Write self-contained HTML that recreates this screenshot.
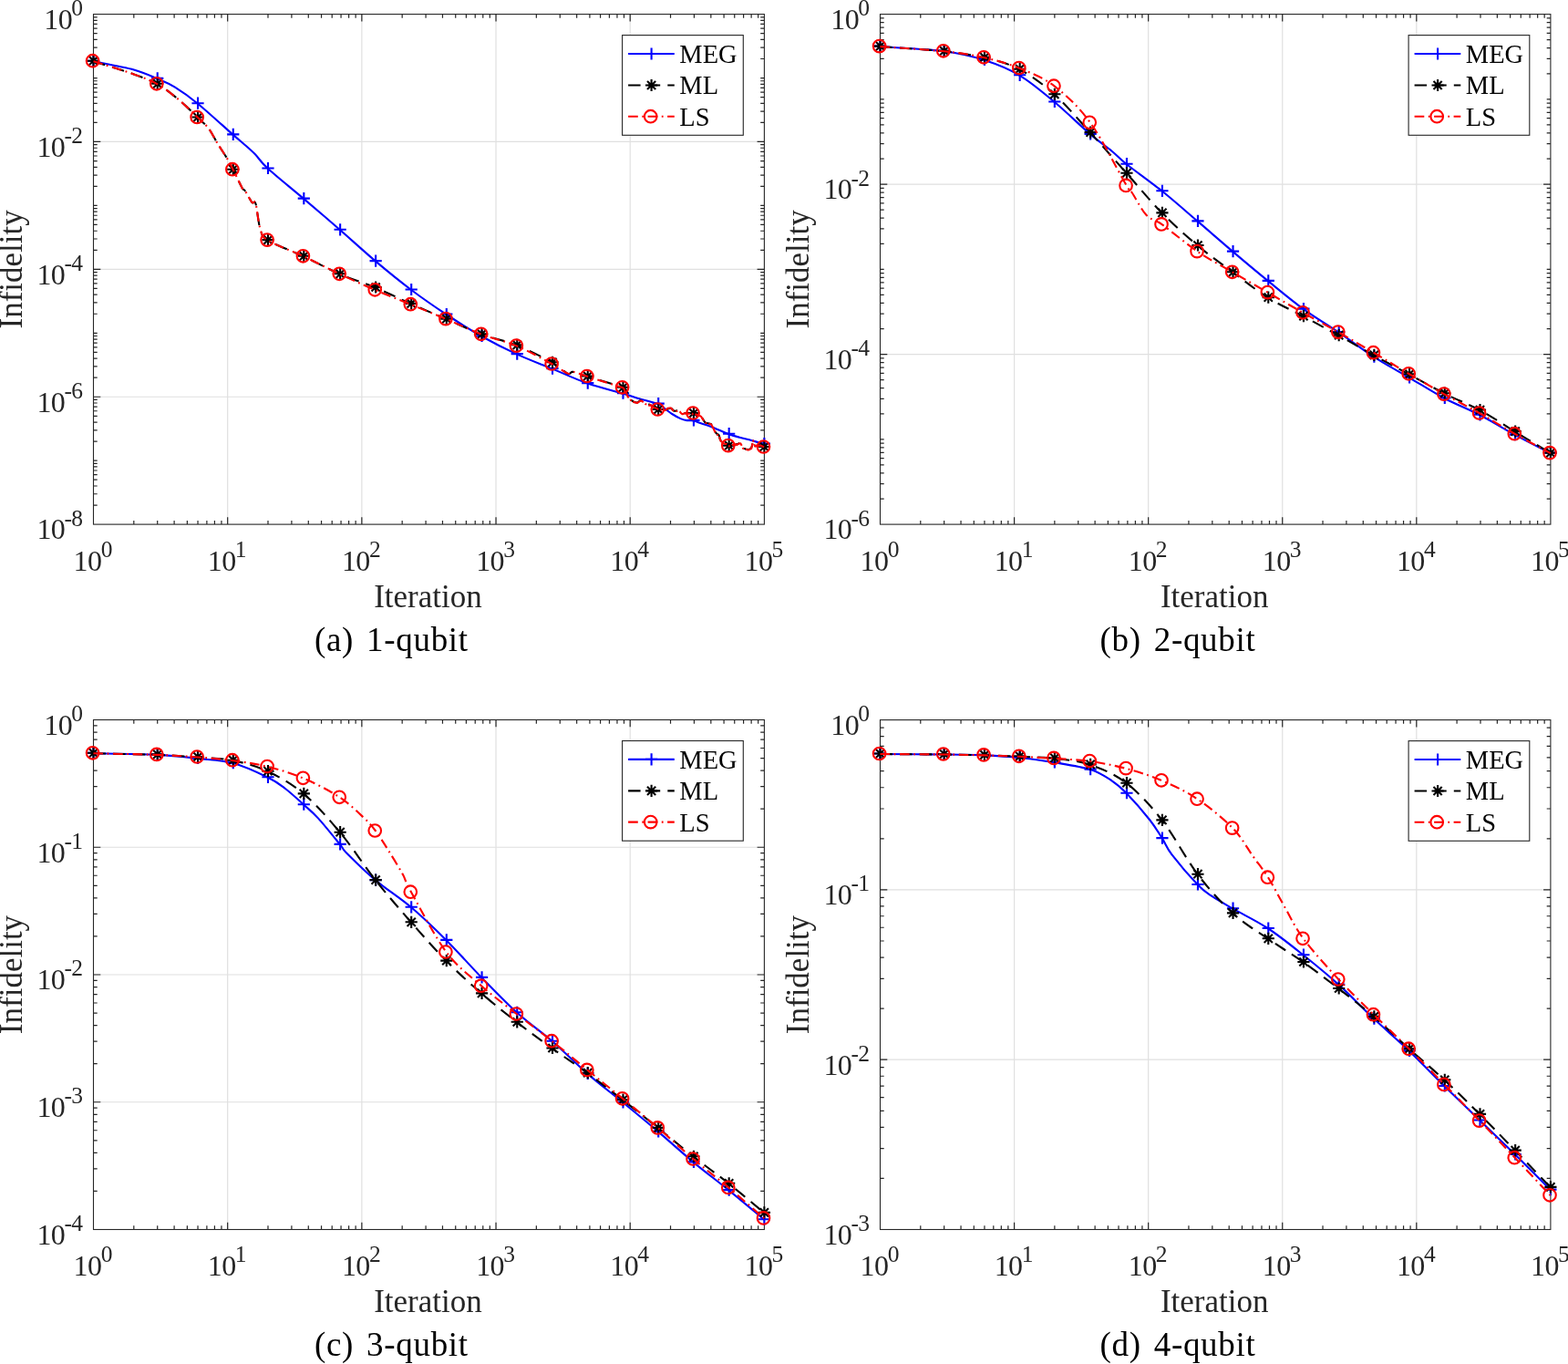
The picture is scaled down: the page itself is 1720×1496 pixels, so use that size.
<!DOCTYPE html>
<html><head><meta charset="utf-8"><title>Infidelity vs Iteration</title>
<style>
html,body{margin:0;padding:0;background:#fff;}
body{width:1720px;height:1496px;overflow:hidden;}
svg{display:block;}
text{font-family:"Liberation Serif", "Times New Roman", serif;}
.tk{font-size:32px;fill:#262626;letter-spacing:-0.6px;}
.sup{font-size:25.5px;}
.lab{font-size:35px;fill:#262626;}
.cap{font-size:37px;fill:#000;letter-spacing:0.7px;word-spacing:4px;}
.leg{font-size:28.5px;fill:#000;}
</style></head>
<body>
<svg width="1720" height="1496" viewBox="0 0 1720 1496">
<path d="M249.68 15.6V575.1M396.86 15.6V575.1M544.04 15.6V575.1M691.22 15.6V575.1M102.5 155.47H838.4M102.5 295.35H838.4M102.5 435.23H838.4" stroke="#262626" stroke-opacity="0.14" stroke-width="1.2" fill="none"/>
<path d="M146.81 575.1v-4.2M146.81 15.6v4.2M172.72 575.1v-4.2M172.72 15.6v4.2M191.11 575.1v-4.2M191.11 15.6v4.2M205.37 575.1v-4.2M205.37 15.6v4.2M217.03 575.1v-4.2M217.03 15.6v4.2M226.88 575.1v-4.2M226.88 15.6v4.2M235.42 575.1v-4.2M235.42 15.6v4.2M242.95 575.1v-4.2M242.95 15.6v4.2M249.68 575.1v-7.8M249.68 15.6v7.8M293.99 575.1v-4.2M293.99 15.6v4.2M319.9 575.1v-4.2M319.9 15.6v4.2M338.29 575.1v-4.2M338.29 15.6v4.2M352.55 575.1v-4.2M352.55 15.6v4.2M364.21 575.1v-4.2M364.21 15.6v4.2M374.06 575.1v-4.2M374.06 15.6v4.2M382.6 575.1v-4.2M382.6 15.6v4.2M390.13 575.1v-4.2M390.13 15.6v4.2M396.86 575.1v-7.8M396.86 15.6v7.8M441.17 575.1v-4.2M441.17 15.6v4.2M467.08 575.1v-4.2M467.08 15.6v4.2M485.47 575.1v-4.2M485.47 15.6v4.2M499.73 575.1v-4.2M499.73 15.6v4.2M511.39 575.1v-4.2M511.39 15.6v4.2M521.24 575.1v-4.2M521.24 15.6v4.2M529.78 575.1v-4.2M529.78 15.6v4.2M537.31 575.1v-4.2M537.31 15.6v4.2M544.04 575.1v-7.8M544.04 15.6v7.8M588.35 575.1v-4.2M588.35 15.6v4.2M614.26 575.1v-4.2M614.26 15.6v4.2M632.65 575.1v-4.2M632.65 15.6v4.2M646.91 575.1v-4.2M646.91 15.6v4.2M658.57 575.1v-4.2M658.57 15.6v4.2M668.42 575.1v-4.2M668.42 15.6v4.2M676.96 575.1v-4.2M676.96 15.6v4.2M684.49 575.1v-4.2M684.49 15.6v4.2M691.22 575.1v-7.8M691.22 15.6v7.8M735.53 575.1v-4.2M735.53 15.6v4.2M761.44 575.1v-4.2M761.44 15.6v4.2M779.83 575.1v-4.2M779.83 15.6v4.2M794.09 575.1v-4.2M794.09 15.6v4.2M805.75 575.1v-4.2M805.75 15.6v4.2M815.6 575.1v-4.2M815.6 15.6v4.2M824.14 575.1v-4.2M824.14 15.6v4.2M831.67 575.1v-4.2M831.67 15.6v4.2M102.5 85.54h4.2M838.4 85.54h-4.2M102.5 64.48h4.2M838.4 64.48h-4.2M102.5 52.17h4.2M838.4 52.17h-4.2M102.5 43.43h4.2M838.4 43.43h-4.2M102.5 36.65h4.2M838.4 36.65h-4.2M102.5 31.12h4.2M838.4 31.12h-4.2M102.5 26.43h4.2M838.4 26.43h-4.2M102.5 22.38h4.2M838.4 22.38h-4.2M102.5 18.8h4.2M838.4 18.8h-4.2M102.5 155.47h7.8M838.4 155.47h-7.8M102.5 134.42h4.2M838.4 134.42h-4.2M102.5 122.11h4.2M838.4 122.11h-4.2M102.5 113.37h4.2M838.4 113.37h-4.2M102.5 106.59h4.2M838.4 106.59h-4.2M102.5 101.05h4.2M838.4 101.05h-4.2M102.5 96.37h4.2M838.4 96.37h-4.2M102.5 92.32h4.2M838.4 92.32h-4.2M102.5 88.74h4.2M838.4 88.74h-4.2M102.5 225.41h4.2M838.4 225.41h-4.2M102.5 204.36h4.2M838.4 204.36h-4.2M102.5 192.04h4.2M838.4 192.04h-4.2M102.5 183.31h4.2M838.4 183.31h-4.2M102.5 176.53h4.2M838.4 176.53h-4.2M102.5 170.99h4.2M838.4 170.99h-4.2M102.5 166.31h4.2M838.4 166.31h-4.2M102.5 162.25h4.2M838.4 162.25h-4.2M102.5 158.68h4.2M838.4 158.68h-4.2M102.5 295.35h7.8M838.4 295.35h-7.8M102.5 274.3h4.2M838.4 274.3h-4.2M102.5 261.98h4.2M838.4 261.98h-4.2M102.5 253.24h4.2M838.4 253.24h-4.2M102.5 246.47h4.2M838.4 246.47h-4.2M102.5 240.93h4.2M838.4 240.93h-4.2M102.5 236.25h4.2M838.4 236.25h-4.2M102.5 232.19h4.2M838.4 232.19h-4.2M102.5 228.61h4.2M838.4 228.61h-4.2M102.5 365.29h4.2M838.4 365.29h-4.2M102.5 344.23h4.2M838.4 344.23h-4.2M102.5 331.92h4.2M838.4 331.92h-4.2M102.5 323.18h4.2M838.4 323.18h-4.2M102.5 316.4h4.2M838.4 316.4h-4.2M102.5 310.87h4.2M838.4 310.87h-4.2M102.5 306.18h4.2M838.4 306.18h-4.2M102.5 302.13h4.2M838.4 302.13h-4.2M102.5 298.55h4.2M838.4 298.55h-4.2M102.5 435.23h7.8M838.4 435.23h-7.8M102.5 414.17h4.2M838.4 414.17h-4.2M102.5 401.86h4.2M838.4 401.86h-4.2M102.5 393.12h4.2M838.4 393.12h-4.2M102.5 386.34h4.2M838.4 386.34h-4.2M102.5 380.8h4.2M838.4 380.8h-4.2M102.5 376.12h4.2M838.4 376.12h-4.2M102.5 372.07h4.2M838.4 372.07h-4.2M102.5 368.49h4.2M838.4 368.49h-4.2M102.5 505.16h4.2M838.4 505.16h-4.2M102.5 484.11h4.2M838.4 484.11h-4.2M102.5 471.79h4.2M838.4 471.79h-4.2M102.5 463.06h4.2M838.4 463.06h-4.2M102.5 456.28h4.2M838.4 456.28h-4.2M102.5 450.74h4.2M838.4 450.74h-4.2M102.5 446.06h4.2M838.4 446.06h-4.2M102.5 442h4.2M838.4 442h-4.2M102.5 438.43h4.2M838.4 438.43h-4.2M102.5 554.05h4.2M838.4 554.05h-4.2M102.5 541.73h4.2M838.4 541.73h-4.2M102.5 532.99h4.2M838.4 532.99h-4.2M102.5 526.22h4.2M838.4 526.22h-4.2M102.5 520.68h4.2M838.4 520.68h-4.2M102.5 516h4.2M838.4 516h-4.2M102.5 511.94h4.2M838.4 511.94h-4.2M102.5 508.36h4.2M838.4 508.36h-4.2" stroke="#262626" stroke-width="1.2" fill="none"/>
<rect x="102.5" y="15.6" width="735.9" height="559.5" stroke="#262626" stroke-width="1.1" fill="none"/>
<path d="M102.5 67.2 C109.88 68.73 135.1 73.2 146.8 76.4 C158.5 79.6 165.21 83.2 172.72 86.4 C180.24 89.6 184.52 91.05 191.9 95.6 C199.28 100.15 206.38 104.98 217.03 113.7 C227.67 122.42 247.44 140.6 255.77 147.9 C264.1 155.2 263.01 153.97 267 157.5 C270.99 161.03 275.2 164.52 279.7 169.1 C284.2 173.68 285.05 176.83 293.99 185 C302.92 193.17 320.12 206.88 333.31 218.1 C346.5 229.32 360 240.88 373.14 252.3 C386.28 263.72 399.13 275.65 412.14 286.6 C425.15 297.55 438.26 308.27 451.2 318 C464.14 327.73 476.9 336.5 489.8 345 C502.69 353.5 515.66 361.73 528.57 369 C541.48 376.27 554.35 382.67 567.26 388.6 C580.17 394.53 593.1 399.27 606.02 404.6 C618.93 409.93 631.83 416.08 644.74 420.6 C657.65 425.12 674.65 429.1 683.48 431.7 C692.3 434.3 691.24 434.3 697.7 436.2 C704.16 438.1 717.02 441.15 722.21 443.1 C727.39 445.05 726.3 446.08 728.8 447.9 C731.3 449.72 734.25 452.13 737.2 454 C740.15 455.87 743.78 457.92 746.5 459.1 C749.22 460.28 751.09 460.72 753.5 461.1 C755.91 461.48 758.62 460.95 760.94 461.4 C763.25 461.85 764.22 462.72 767.4 463.8 C770.58 464.88 774.62 465.83 780 467.9 C785.38 469.97 794.45 474.23 799.67 476.2 C804.89 478.17 807.21 478.55 811.3 479.7 C815.39 480.85 819.68 481.88 824.2 483.1 C828.72 484.32 836.03 486.35 838.4 487" stroke="#0000ff" stroke-width="2.1" fill="none" stroke-linejoin="round"/>
<path d="M95.9 66.7h13.2M102.5 60.1v13.2" stroke="#0000ff" stroke-width="2.1" fill="none"/>
<path d="M166.12 85.9h13.2M172.72 79.3v13.2" stroke="#0000ff" stroke-width="2.1" fill="none"/>
<path d="M210.43 113.2h13.2M217.03 106.6v13.2" stroke="#0000ff" stroke-width="2.1" fill="none"/>
<path d="M249.17 147.4h13.2M255.77 140.8v13.2" stroke="#0000ff" stroke-width="2.1" fill="none"/>
<path d="M287.39 184.5h13.2M293.99 177.9v13.2" stroke="#0000ff" stroke-width="2.1" fill="none"/>
<path d="M326.71 217.6h13.2M333.31 211v13.2" stroke="#0000ff" stroke-width="2.1" fill="none"/>
<path d="M366.54 251.8h13.2M373.14 245.2v13.2" stroke="#0000ff" stroke-width="2.1" fill="none"/>
<path d="M405.54 286.1h13.2M412.14 279.5v13.2" stroke="#0000ff" stroke-width="2.1" fill="none"/>
<path d="M444.6 317.5h13.2M451.2 310.9v13.2" stroke="#0000ff" stroke-width="2.1" fill="none"/>
<path d="M483.2 344.5h13.2M489.8 337.9v13.2" stroke="#0000ff" stroke-width="2.1" fill="none"/>
<path d="M521.97 368.5h13.2M528.57 361.9v13.2" stroke="#0000ff" stroke-width="2.1" fill="none"/>
<path d="M560.66 388.1h13.2M567.26 381.5v13.2" stroke="#0000ff" stroke-width="2.1" fill="none"/>
<path d="M599.42 404.1h13.2M606.02 397.5v13.2" stroke="#0000ff" stroke-width="2.1" fill="none"/>
<path d="M638.14 420.1h13.2M644.74 413.5v13.2" stroke="#0000ff" stroke-width="2.1" fill="none"/>
<path d="M676.88 431.2h13.2M683.48 424.6v13.2" stroke="#0000ff" stroke-width="2.1" fill="none"/>
<path d="M715.61 442.6h13.2M722.21 436v13.2" stroke="#0000ff" stroke-width="2.1" fill="none"/>
<path d="M754.34 460.9h13.2M760.94 454.3v13.2" stroke="#0000ff" stroke-width="2.1" fill="none"/>
<path d="M793.07 475.7h13.2M799.67 469.1v13.2" stroke="#0000ff" stroke-width="2.1" fill="none"/>
<path d="M831.8 486.5h13.2M838.4 479.9v13.2" stroke="#0000ff" stroke-width="2.1" fill="none"/>
<path d="M102.5 67.2 C109.88 69.57 135.1 77.22 146.8 81.4 C158.5 85.58 164.92 87.98 172.72 92.3 C180.52 96.62 187.62 102.57 193.6 107.3 C199.58 112.03 204.7 117.08 208.6 120.7 C212.5 124.32 213.68 125.67 217.03 129 C220.38 132.33 225.09 135.95 228.7 140.7 C232.31 145.45 235.08 151.65 238.7 157.5 C242.32 163.35 247.55 171.02 250.4 175.8 C253.25 180.58 253.26 181.18 255.77 186.2 C258.29 191.22 263.33 202.05 265.5 205.9 C267.67 209.75 267 206.65 268.8 209.3 C270.6 211.95 274.35 219.43 276.3 221.8 C278.25 224.17 278.97 218.63 280.5 223.5 C282.03 228.37 283.25 244.32 285.5 251 C287.75 257.68 286.02 258.55 293.99 263.6 C301.95 268.65 320.12 275.1 333.31 281.3 C346.5 287.5 360 295.1 373.14 300.8 C386.28 306.5 399.13 310.07 412.14 315.5 C425.15 320.93 438.26 327.63 451.2 333.4 C464.14 339.17 476.9 344.53 489.8 350.1 C502.69 355.67 515.66 362.02 528.57 366.8 C541.48 371.58 554.35 373.63 567.26 378.8 C580.17 383.97 596.83 392.67 606.02 397.8 C615.21 402.93 618.84 407.92 622.4 409.6 C625.96 411.28 625.72 408.03 627.4 407.9 C629.08 407.77 629.61 407.95 632.5 408.8 C635.39 409.65 636.25 410.25 644.74 413 C653.24 415.75 676.13 421.77 683.48 425.3 C690.82 428.83 687.26 431.88 688.8 434.2 C690.34 436.52 691.05 437.97 692.7 439.2 C694.35 440.43 697.05 441.6 698.7 441.6 C700.35 441.6 701.28 439.2 702.6 439.2 C703.92 439.2 704.78 440.78 706.6 441.6 C708.42 442.42 711.7 443.27 713.5 444.1 C715.3 444.93 715.95 445.7 717.4 446.6 C718.85 447.5 720.31 448.97 722.21 449.5 C724.11 450.03 727.07 449.98 728.8 449.8 C730.53 449.62 731.35 448.72 732.6 448.4 C733.85 448.08 735.15 447.52 736.3 447.9 C737.45 448.28 738.18 450.27 739.5 450.7 C740.82 451.13 742.65 450.03 744.2 450.5 C745.75 450.97 747.25 453.1 748.8 453.5 C750.35 453.9 751.48 452.9 753.5 452.9 C755.52 452.9 758.62 453.02 760.94 453.5 C763.25 453.98 765.77 454.87 767.4 455.8 C769.03 456.73 769.68 457.85 770.7 459.1 C771.72 460.35 771.95 462.28 773.5 463.3 C775.05 464.32 778.47 464.2 780 465.2 C781.53 466.2 781.77 467.63 782.7 469.3 C783.63 470.97 784.62 473.88 785.6 475.2 C786.58 476.52 787.77 475.88 788.6 477.2 C789.43 478.52 788.76 481.12 790.6 483.1 C792.44 485.08 796.7 488.43 799.67 489.1 C802.64 489.77 806.29 487.6 808.4 487.1 C810.51 486.6 811.15 485.45 812.3 486.1 C813.45 486.75 813.98 489.85 815.3 491 C816.62 492.15 818.72 493 820.2 493 C821.68 493 823.2 492.48 824.2 491 C825.2 489.52 825.55 484.42 826.2 484.1 C826.85 483.78 827.12 488.43 828.1 489.1 C829.08 489.77 830.38 487.87 832.1 488.1 C833.82 488.33 837.35 490.1 838.4 490.5" stroke="#000000" stroke-width="2.1" fill="none" stroke-linejoin="round" stroke-dasharray="13.5 8.1"/>
<path d="M95.9 66.7h13.2M102.5 60.1v13.2M97.9 62.1l9.2 9.2M97.9 71.3l9.2 -9.2" stroke="#000000" stroke-width="2.1" fill="none"/>
<path d="M166.12 91.8h13.2M172.72 85.2v13.2M168.12 87.2l9.2 9.2M168.12 96.4l9.2 -9.2" stroke="#000000" stroke-width="2.1" fill="none"/>
<path d="M210.43 128.5h13.2M217.03 121.9v13.2M212.43 123.9l9.2 9.2M212.43 133.1l9.2 -9.2" stroke="#000000" stroke-width="2.1" fill="none"/>
<path d="M249.17 185.7h13.2M255.77 179.1v13.2M251.17 181.1l9.2 9.2M251.17 190.3l9.2 -9.2" stroke="#000000" stroke-width="2.1" fill="none"/>
<path d="M287.39 263.1h13.2M293.99 256.5v13.2M289.39 258.5l9.2 9.2M289.39 267.7l9.2 -9.2" stroke="#000000" stroke-width="2.1" fill="none"/>
<path d="M326.71 280.8h13.2M333.31 274.2v13.2M328.71 276.2l9.2 9.2M328.71 285.4l9.2 -9.2" stroke="#000000" stroke-width="2.1" fill="none"/>
<path d="M366.54 300.3h13.2M373.14 293.7v13.2M368.54 295.7l9.2 9.2M368.54 304.9l9.2 -9.2" stroke="#000000" stroke-width="2.1" fill="none"/>
<path d="M405.54 315h13.2M412.14 308.4v13.2M407.54 310.4l9.2 9.2M407.54 319.6l9.2 -9.2" stroke="#000000" stroke-width="2.1" fill="none"/>
<path d="M444.6 332.9h13.2M451.2 326.3v13.2M446.6 328.3l9.2 9.2M446.6 337.5l9.2 -9.2" stroke="#000000" stroke-width="2.1" fill="none"/>
<path d="M483.2 349.6h13.2M489.8 343v13.2M485.2 345l9.2 9.2M485.2 354.2l9.2 -9.2" stroke="#000000" stroke-width="2.1" fill="none"/>
<path d="M521.97 366.3h13.2M528.57 359.7v13.2M523.97 361.7l9.2 9.2M523.97 370.9l9.2 -9.2" stroke="#000000" stroke-width="2.1" fill="none"/>
<path d="M560.66 378.3h13.2M567.26 371.7v13.2M562.66 373.7l9.2 9.2M562.66 382.9l9.2 -9.2" stroke="#000000" stroke-width="2.1" fill="none"/>
<path d="M599.42 397.3h13.2M606.02 390.7v13.2M601.42 392.7l9.2 9.2M601.42 401.9l9.2 -9.2" stroke="#000000" stroke-width="2.1" fill="none"/>
<path d="M638.14 412.5h13.2M644.74 405.9v13.2M640.14 407.9l9.2 9.2M640.14 417.1l9.2 -9.2" stroke="#000000" stroke-width="2.1" fill="none"/>
<path d="M676.88 424.8h13.2M683.48 418.2v13.2M678.88 420.2l9.2 9.2M678.88 429.4l9.2 -9.2" stroke="#000000" stroke-width="2.1" fill="none"/>
<path d="M715.61 449h13.2M722.21 442.4v13.2M717.61 444.4l9.2 9.2M717.61 453.6l9.2 -9.2" stroke="#000000" stroke-width="2.1" fill="none"/>
<path d="M754.34 453h13.2M760.94 446.4v13.2M756.34 448.4l9.2 9.2M756.34 457.6l9.2 -9.2" stroke="#000000" stroke-width="2.1" fill="none"/>
<path d="M793.07 488.6h13.2M799.67 482v13.2M795.07 484l9.2 9.2M795.07 493.2l9.2 -9.2" stroke="#000000" stroke-width="2.1" fill="none"/>
<path d="M831.8 490h13.2M838.4 483.4v13.2M833.8 485.4l9.2 9.2M833.8 494.6l9.2 -9.2" stroke="#000000" stroke-width="2.1" fill="none"/>
<path d="M102.5 67.2 C109.88 69.57 135.1 77.22 146.8 81.4 C158.5 85.58 164.92 87.98 172.72 92.3 C180.52 96.62 187.62 102.57 193.6 107.3 C199.58 112.03 204.7 117.08 208.6 120.7 C212.5 124.32 213.68 125.67 217.03 129 C220.38 132.33 225.09 135.95 228.7 140.7 C232.31 145.45 235.08 151.65 238.7 157.5 C242.32 163.35 247.55 171.02 250.4 175.8 C253.25 180.58 253.26 181.18 255.77 186.2 C258.29 191.22 263.33 202.05 265.5 205.9 C267.67 209.75 267 206.65 268.8 209.3 C270.6 211.95 274.35 219.43 276.3 221.8 C278.25 224.17 278.97 218.63 280.5 223.5 C282.03 228.37 283.25 244.32 285.5 251 C287.75 257.68 286.02 258.55 293.99 263.6 C301.95 268.65 320.12 275.1 333.31 281.3 C346.5 287.5 360 294.63 373.14 300.8 C386.28 306.97 399.13 312.73 412.14 318.3 C425.15 323.87 438.26 328.9 451.2 334.2 C464.14 339.5 476.9 344.67 489.8 350.1 C502.69 355.53 515.66 361.88 528.57 366.8 C541.48 371.72 554.35 374.15 567.26 379.6 C580.17 385.05 596.83 394.5 606.02 399.5 C615.21 404.5 618.84 408.2 622.4 409.6 C625.96 411 625.72 408.03 627.4 407.9 C629.08 407.77 629.61 407.95 632.5 408.8 C635.39 409.65 636.25 410.25 644.74 413 C653.24 415.75 677.02 423.25 683.48 425.3" stroke="#ff0000" stroke-width="2.1" fill="none" stroke-linejoin="round" stroke-dasharray="10.7 4.5 1.8 4.5"/>
<path d="M683.48 425.05 L684.81 427.29 L686.14 430.46 L687.47 432.13 L688.8 435.25 L690.1 436.68 L691.4 437.91 L692.7 440.21 L694.2 440.15 L695.7 441.31 L697.2 441.4 L698.7 442.03 L700.65 440.79 L702.6 439.66 L703.93 439.64 L705.27 440.75 L706.6 442.28 L707.98 443.23 L709.36 443.21 L710.74 443.46 L712.12 444.77 L713.5 443.97 L715.45 446.35 L717.4 446.81 L719 447.4 L720.6 448.16 L722.21 449.23 L723.52 450.1 L724.84 449.37 L726.16 450.09 L727.48 450.33 L728.8 450.12 L730.7 449.42 L732.6 447.79 L734.45 447.53 L736.3 447.49 L737.9 449.8 L739.5 451.1 L741.07 450.77 L742.63 450.99 L744.2 450.63 L745.73 451.52 L747.27 453.31 L748.8 454.28 L750.37 453.34 L751.93 453.5 L753.5 453.14 L754.99 453.71 L756.48 453.58 L757.96 453.04 L759.45 454.09 L760.94 452.97 L762.55 453.96 L764.17 455.01 L765.78 454.74 L767.4 455.78 L769.05 456.8 L770.7 459.34 L772.1 461.57 L773.5 463.4 L774.8 464.21 L776.1 463.8 L777.4 464.71 L778.7 464.95 L780 465.31 L781.35 467.44 L782.7 470.28 L784.15 473.37 L785.6 475.66 L787.1 476.93 L788.6 477.08 L790.6 483.88 L792.11 484.72 L793.62 486.12 L795.13 486.8 L796.65 486.97 L798.16 488.02 L799.67 489.34 L801.12 488.18 L802.58 488.55 L804.03 487.89 L805.49 487.56 L806.94 487.23 L808.4 487.98 L810.35 486.58 L812.3 486.25 L813.8 488.9 L815.3 492.02 L816.93 491.58 L818.57 492.76 L820.2 493.57 L821.53 493.37 L822.87 492.61 L824.2 492.01 L826.2 483.29 L828.1 489.48 L829.43 489.07 L830.77 489.47 L832.1 489.24 L833.67 488.59 L835.25 489.1 L836.83 489.65 L838.4 490.5" stroke="#ff0000" stroke-width="2.1" fill="none" stroke-linejoin="round" stroke-dasharray="13 2.5 1.8 2.5"/>
<circle cx="101.6" cy="66.7" r="6.8" stroke="#ff0000" stroke-width="2.1" fill="none"/>
<circle cx="171.82" cy="91.8" r="6.8" stroke="#ff0000" stroke-width="2.1" fill="none"/>
<circle cx="216.13" cy="128.5" r="6.8" stroke="#ff0000" stroke-width="2.1" fill="none"/>
<circle cx="254.87" cy="185.7" r="6.8" stroke="#ff0000" stroke-width="2.1" fill="none"/>
<circle cx="293.09" cy="263.1" r="6.8" stroke="#ff0000" stroke-width="2.1" fill="none"/>
<circle cx="332.41" cy="280.8" r="6.8" stroke="#ff0000" stroke-width="2.1" fill="none"/>
<circle cx="372.24" cy="300.3" r="6.8" stroke="#ff0000" stroke-width="2.1" fill="none"/>
<circle cx="411.24" cy="317.8" r="6.8" stroke="#ff0000" stroke-width="2.1" fill="none"/>
<circle cx="450.3" cy="333.7" r="6.8" stroke="#ff0000" stroke-width="2.1" fill="none"/>
<circle cx="488.9" cy="349.6" r="6.8" stroke="#ff0000" stroke-width="2.1" fill="none"/>
<circle cx="527.67" cy="366.3" r="6.8" stroke="#ff0000" stroke-width="2.1" fill="none"/>
<circle cx="566.36" cy="379.1" r="6.8" stroke="#ff0000" stroke-width="2.1" fill="none"/>
<circle cx="605.12" cy="399" r="6.8" stroke="#ff0000" stroke-width="2.1" fill="none"/>
<circle cx="643.84" cy="412.5" r="6.8" stroke="#ff0000" stroke-width="2.1" fill="none"/>
<circle cx="682.58" cy="424.8" r="6.8" stroke="#ff0000" stroke-width="2.1" fill="none"/>
<circle cx="721.31" cy="449" r="6.8" stroke="#ff0000" stroke-width="2.1" fill="none"/>
<circle cx="760.04" cy="453" r="6.8" stroke="#ff0000" stroke-width="2.1" fill="none"/>
<circle cx="798.77" cy="488.6" r="6.8" stroke="#ff0000" stroke-width="2.1" fill="none"/>
<circle cx="837.5" cy="490" r="6.8" stroke="#ff0000" stroke-width="2.1" fill="none"/>
<text x="101.7" y="625.5" text-anchor="middle" class="tk">10<tspan class="sup" dx="-0.8" dy="-14.9">0</tspan></text>
<text x="248.88" y="625.5" text-anchor="middle" class="tk">10<tspan class="sup" dx="-0.8" dy="-14.9">1</tspan></text>
<text x="396.06" y="625.5" text-anchor="middle" class="tk">10<tspan class="sup" dx="-0.8" dy="-14.9">2</tspan></text>
<text x="543.24" y="625.5" text-anchor="middle" class="tk">10<tspan class="sup" dx="-0.8" dy="-14.9">3</tspan></text>
<text x="690.42" y="625.5" text-anchor="middle" class="tk">10<tspan class="sup" dx="-0.8" dy="-14.9">4</tspan></text>
<text x="837.6" y="625.5" text-anchor="middle" class="tk">10<tspan class="sup" dx="-0.8" dy="-14.9">5</tspan></text>
<text x="90.5" y="31.9" text-anchor="end" class="tk">10<tspan class="sup" dx="-0.8" dy="-14.9">0</tspan></text>
<text x="90.5" y="171.78" text-anchor="end" class="tk">10<tspan class="sup" dx="-0.8" dy="-14.9">-2</tspan></text>
<text x="90.5" y="311.65" text-anchor="end" class="tk">10<tspan class="sup" dx="-0.8" dy="-14.9">-4</tspan></text>
<text x="90.5" y="451.53" text-anchor="end" class="tk">10<tspan class="sup" dx="-0.8" dy="-14.9">-6</tspan></text>
<text x="90.5" y="591.4" text-anchor="end" class="tk">10<tspan class="sup" dx="-0.8" dy="-14.9">-8</tspan></text>
<text x="469.45" y="665.7" text-anchor="middle" class="lab">Iteration</text>
<text transform="translate(24.2 295.35) rotate(-90)" text-anchor="middle" class="lab">Infidelity</text>
<text x="429.4" y="714" text-anchor="middle" class="cap">(a) 1-qubit</text>
<rect x="682.6" y="38.6" width="132.7" height="109.7" fill="#fff" stroke="#262626" stroke-width="1.1"/>
<path d="M689.1 59H739.8" stroke="#0000ff" stroke-width="2.1"/>
<path d="M708 59h13.2M714.6 52.4v13.2" stroke="#0000ff" stroke-width="2.1" fill="none"/>
<text x="745.3" y="68.7" class="leg">MEG</text>
<path d="M689.1 93.5H739.8" stroke="#000000" stroke-width="2.1" stroke-dasharray="13.5 8.1"/>
<path d="M708 93.5h13.2M714.6 86.9v13.2M710 88.9l9.2 9.2M710 98.1l9.2 -9.2" stroke="#000000" stroke-width="2.1" fill="none"/>
<text x="745.3" y="103.2" class="leg">ML</text>
<path d="M689.1 127.7H739.8" stroke="#ff0000" stroke-width="2.1" stroke-dasharray="10.7 4.5 1.8 4.5"/>
<circle cx="713.7" cy="127.7" r="6.8" stroke="#ff0000" stroke-width="2.1" fill="none"/>
<text x="745.3" y="137.6" class="leg">LS</text>
<path d="M1112.58 15.6V575.1M1259.66 15.6V575.1M1406.74 15.6V575.1M1553.82 15.6V575.1M965.5 202.1H1700.9M965.5 388.6H1700.9" stroke="#262626" stroke-opacity="0.14" stroke-width="1.2" fill="none"/>
<path d="M1009.78 575.1v-4.2M1009.78 15.6v4.2M1035.67 575.1v-4.2M1035.67 15.6v4.2M1054.05 575.1v-4.2M1054.05 15.6v4.2M1068.3 575.1v-4.2M1068.3 15.6v4.2M1079.95 575.1v-4.2M1079.95 15.6v4.2M1089.8 575.1v-4.2M1089.8 15.6v4.2M1098.33 575.1v-4.2M1098.33 15.6v4.2M1105.85 575.1v-4.2M1105.85 15.6v4.2M1112.58 575.1v-7.8M1112.58 15.6v7.8M1156.86 575.1v-4.2M1156.86 15.6v4.2M1182.75 575.1v-4.2M1182.75 15.6v4.2M1201.13 575.1v-4.2M1201.13 15.6v4.2M1215.38 575.1v-4.2M1215.38 15.6v4.2M1227.03 575.1v-4.2M1227.03 15.6v4.2M1236.88 575.1v-4.2M1236.88 15.6v4.2M1245.41 575.1v-4.2M1245.41 15.6v4.2M1252.93 575.1v-4.2M1252.93 15.6v4.2M1259.66 575.1v-7.8M1259.66 15.6v7.8M1303.94 575.1v-4.2M1303.94 15.6v4.2M1329.83 575.1v-4.2M1329.83 15.6v4.2M1348.21 575.1v-4.2M1348.21 15.6v4.2M1362.46 575.1v-4.2M1362.46 15.6v4.2M1374.11 575.1v-4.2M1374.11 15.6v4.2M1383.96 575.1v-4.2M1383.96 15.6v4.2M1392.49 575.1v-4.2M1392.49 15.6v4.2M1400.01 575.1v-4.2M1400.01 15.6v4.2M1406.74 575.1v-7.8M1406.74 15.6v7.8M1451.02 575.1v-4.2M1451.02 15.6v4.2M1476.91 575.1v-4.2M1476.91 15.6v4.2M1495.29 575.1v-4.2M1495.29 15.6v4.2M1509.54 575.1v-4.2M1509.54 15.6v4.2M1521.19 575.1v-4.2M1521.19 15.6v4.2M1531.04 575.1v-4.2M1531.04 15.6v4.2M1539.57 575.1v-4.2M1539.57 15.6v4.2M1547.09 575.1v-4.2M1547.09 15.6v4.2M1553.82 575.1v-7.8M1553.82 15.6v7.8M1598.1 575.1v-4.2M1598.1 15.6v4.2M1623.99 575.1v-4.2M1623.99 15.6v4.2M1642.37 575.1v-4.2M1642.37 15.6v4.2M1656.62 575.1v-4.2M1656.62 15.6v4.2M1668.27 575.1v-4.2M1668.27 15.6v4.2M1678.12 575.1v-4.2M1678.12 15.6v4.2M1686.65 575.1v-4.2M1686.65 15.6v4.2M1694.17 575.1v-4.2M1694.17 15.6v4.2M965.5 108.85h4.2M1700.9 108.85h-4.2M965.5 80.78h4.2M1700.9 80.78h-4.2M965.5 64.36h4.2M1700.9 64.36h-4.2M965.5 52.71h4.2M1700.9 52.71h-4.2M965.5 43.67h4.2M1700.9 43.67h-4.2M965.5 36.29h4.2M1700.9 36.29h-4.2M965.5 30.04h4.2M1700.9 30.04h-4.2M965.5 24.64h4.2M1700.9 24.64h-4.2M965.5 19.87h4.2M1700.9 19.87h-4.2M965.5 202.1h7.8M1700.9 202.1h-7.8M965.5 174.03h4.2M1700.9 174.03h-4.2M965.5 157.61h4.2M1700.9 157.61h-4.2M965.5 145.96h4.2M1700.9 145.96h-4.2M965.5 136.92h4.2M1700.9 136.92h-4.2M965.5 129.54h4.2M1700.9 129.54h-4.2M965.5 123.29h4.2M1700.9 123.29h-4.2M965.5 117.89h4.2M1700.9 117.89h-4.2M965.5 113.12h4.2M1700.9 113.12h-4.2M965.5 295.35h4.2M1700.9 295.35h-4.2M965.5 267.28h4.2M1700.9 267.28h-4.2M965.5 250.86h4.2M1700.9 250.86h-4.2M965.5 239.21h4.2M1700.9 239.21h-4.2M965.5 230.17h4.2M1700.9 230.17h-4.2M965.5 222.79h4.2M1700.9 222.79h-4.2M965.5 216.54h4.2M1700.9 216.54h-4.2M965.5 211.14h4.2M1700.9 211.14h-4.2M965.5 206.37h4.2M1700.9 206.37h-4.2M965.5 388.6h7.8M1700.9 388.6h-7.8M965.5 360.53h4.2M1700.9 360.53h-4.2M965.5 344.11h4.2M1700.9 344.11h-4.2M965.5 332.46h4.2M1700.9 332.46h-4.2M965.5 323.42h4.2M1700.9 323.42h-4.2M965.5 316.04h4.2M1700.9 316.04h-4.2M965.5 309.79h4.2M1700.9 309.79h-4.2M965.5 304.39h4.2M1700.9 304.39h-4.2M965.5 299.62h4.2M1700.9 299.62h-4.2M965.5 481.85h4.2M1700.9 481.85h-4.2M965.5 453.78h4.2M1700.9 453.78h-4.2M965.5 437.36h4.2M1700.9 437.36h-4.2M965.5 425.71h4.2M1700.9 425.71h-4.2M965.5 416.67h4.2M1700.9 416.67h-4.2M965.5 409.29h4.2M1700.9 409.29h-4.2M965.5 403.04h4.2M1700.9 403.04h-4.2M965.5 397.64h4.2M1700.9 397.64h-4.2M965.5 392.87h4.2M1700.9 392.87h-4.2M965.5 547.03h4.2M1700.9 547.03h-4.2M965.5 530.61h4.2M1700.9 530.61h-4.2M965.5 518.96h4.2M1700.9 518.96h-4.2M965.5 509.92h4.2M1700.9 509.92h-4.2M965.5 502.54h4.2M1700.9 502.54h-4.2M965.5 496.29h4.2M1700.9 496.29h-4.2M965.5 490.89h4.2M1700.9 490.89h-4.2M965.5 486.12h4.2M1700.9 486.12h-4.2" stroke="#262626" stroke-width="1.2" fill="none"/>
<rect x="965.5" y="15.6" width="735.4" height="559.5" stroke="#262626" stroke-width="1.1" fill="none"/>
<path d="M965.5 51.1 C977.2 51.97 1016.6 53.82 1035.67 56.3 C1054.75 58.78 1066.12 61.58 1079.95 66 C1093.78 70.42 1105.85 75.13 1118.67 82.8 C1131.49 90.47 1143.94 101.23 1156.86 112 C1169.77 122.77 1185.69 138.45 1196.15 147.4 C1206.61 156.35 1212.97 160.23 1219.6 165.7 C1226.23 171.17 1226.74 172.85 1235.96 180.2 C1245.18 187.55 1261.93 199.35 1274.93 209.8 C1287.93 220.25 1301.03 231.85 1313.96 242.9 C1326.9 253.95 1339.65 265.18 1352.53 276.1 C1365.42 287.02 1378.38 297.9 1391.28 308.4 C1404.18 318.9 1417.04 329.73 1429.94 339.1 C1442.84 348.47 1455.77 355.85 1468.68 364.6 C1481.58 373.35 1494.47 383.32 1507.37 391.6 C1520.28 399.88 1533.18 406.73 1546.08 414.3 C1558.98 421.87 1571.88 430.17 1584.79 437 C1597.69 443.83 1610.59 448.62 1623.49 455.3 C1636.39 461.98 1649.29 470.13 1662.19 477.1 C1675.1 484.07 1694.45 493.77 1700.9 497.1" stroke="#0000ff" stroke-width="2.1" fill="none" stroke-linejoin="round"/>
<path d="M958.9 50.6h13.2M965.5 44v13.2" stroke="#0000ff" stroke-width="2.1" fill="none"/>
<path d="M1029.07 55.8h13.2M1035.67 49.2v13.2" stroke="#0000ff" stroke-width="2.1" fill="none"/>
<path d="M1073.35 65.5h13.2M1079.95 58.9v13.2" stroke="#0000ff" stroke-width="2.1" fill="none"/>
<path d="M1112.07 82.3h13.2M1118.67 75.7v13.2" stroke="#0000ff" stroke-width="2.1" fill="none"/>
<path d="M1150.26 111.5h13.2M1156.86 104.9v13.2" stroke="#0000ff" stroke-width="2.1" fill="none"/>
<path d="M1189.55 146.9h13.2M1196.15 140.3v13.2" stroke="#0000ff" stroke-width="2.1" fill="none"/>
<path d="M1229.36 179.7h13.2M1235.96 173.1v13.2" stroke="#0000ff" stroke-width="2.1" fill="none"/>
<path d="M1268.33 209.3h13.2M1274.93 202.7v13.2" stroke="#0000ff" stroke-width="2.1" fill="none"/>
<path d="M1307.36 242.4h13.2M1313.96 235.8v13.2" stroke="#0000ff" stroke-width="2.1" fill="none"/>
<path d="M1345.93 275.6h13.2M1352.53 269v13.2" stroke="#0000ff" stroke-width="2.1" fill="none"/>
<path d="M1384.68 307.9h13.2M1391.28 301.3v13.2" stroke="#0000ff" stroke-width="2.1" fill="none"/>
<path d="M1423.34 338.6h13.2M1429.94 332v13.2" stroke="#0000ff" stroke-width="2.1" fill="none"/>
<path d="M1462.08 364.1h13.2M1468.68 357.5v13.2" stroke="#0000ff" stroke-width="2.1" fill="none"/>
<path d="M1500.77 391.1h13.2M1507.37 384.5v13.2" stroke="#0000ff" stroke-width="2.1" fill="none"/>
<path d="M1539.48 413.8h13.2M1546.08 407.2v13.2" stroke="#0000ff" stroke-width="2.1" fill="none"/>
<path d="M1578.19 436.5h13.2M1584.79 429.9v13.2" stroke="#0000ff" stroke-width="2.1" fill="none"/>
<path d="M1616.89 454.8h13.2M1623.49 448.2v13.2" stroke="#0000ff" stroke-width="2.1" fill="none"/>
<path d="M1655.59 476.6h13.2M1662.19 470v13.2" stroke="#0000ff" stroke-width="2.1" fill="none"/>
<path d="M1694.3 496.6h13.2M1700.9 490v13.2" stroke="#0000ff" stroke-width="2.1" fill="none"/>
<path d="M965.5 51.1 C977.2 51.97 1016.6 54.27 1035.67 56.3 C1054.75 58.33 1066.12 59.98 1079.95 63.3 C1093.78 66.62 1105.85 69.45 1118.67 76.2 C1131.49 82.95 1143.94 92.23 1156.86 103.8 C1169.77 115.37 1182.97 131.2 1196.15 145.6 C1209.33 160 1222.83 175.48 1235.96 190.2 C1249.09 204.92 1261.93 220.68 1274.93 233.9 C1287.93 247.12 1301.03 258.68 1313.96 269.5 C1326.9 280.32 1339.65 289.27 1352.53 298.8 C1365.42 308.33 1378.38 318.65 1391.28 326.7 C1404.18 334.75 1417.04 340.2 1429.94 347.1 C1442.84 354 1455.77 360.97 1468.68 368.1 C1481.58 375.23 1494.47 382.78 1507.37 389.9 C1520.28 397.02 1533.18 403.83 1546.08 410.8 C1558.98 417.77 1571.88 425.17 1584.79 431.7 C1597.69 438.23 1610.59 443.02 1623.49 450 C1636.39 456.98 1649.29 465.75 1662.19 473.6 C1675.1 481.45 1694.45 493.18 1700.9 497.1" stroke="#000000" stroke-width="2.1" fill="none" stroke-linejoin="round" stroke-dasharray="13.5 8.1"/>
<path d="M958.9 50.6h13.2M965.5 44v13.2M960.9 46l9.2 9.2M960.9 55.2l9.2 -9.2" stroke="#000000" stroke-width="2.1" fill="none"/>
<path d="M1029.07 55.8h13.2M1035.67 49.2v13.2M1031.07 51.2l9.2 9.2M1031.07 60.4l9.2 -9.2" stroke="#000000" stroke-width="2.1" fill="none"/>
<path d="M1073.35 62.8h13.2M1079.95 56.2v13.2M1075.35 58.2l9.2 9.2M1075.35 67.4l9.2 -9.2" stroke="#000000" stroke-width="2.1" fill="none"/>
<path d="M1112.07 75.7h13.2M1118.67 69.1v13.2M1114.07 71.1l9.2 9.2M1114.07 80.3l9.2 -9.2" stroke="#000000" stroke-width="2.1" fill="none"/>
<path d="M1150.26 103.3h13.2M1156.86 96.7v13.2M1152.26 98.7l9.2 9.2M1152.26 107.9l9.2 -9.2" stroke="#000000" stroke-width="2.1" fill="none"/>
<path d="M1189.55 145.1h13.2M1196.15 138.5v13.2M1191.55 140.5l9.2 9.2M1191.55 149.7l9.2 -9.2" stroke="#000000" stroke-width="2.1" fill="none"/>
<path d="M1229.36 189.7h13.2M1235.96 183.1v13.2M1231.36 185.1l9.2 9.2M1231.36 194.3l9.2 -9.2" stroke="#000000" stroke-width="2.1" fill="none"/>
<path d="M1268.33 233.4h13.2M1274.93 226.8v13.2M1270.33 228.8l9.2 9.2M1270.33 238l9.2 -9.2" stroke="#000000" stroke-width="2.1" fill="none"/>
<path d="M1307.36 269h13.2M1313.96 262.4v13.2M1309.36 264.4l9.2 9.2M1309.36 273.6l9.2 -9.2" stroke="#000000" stroke-width="2.1" fill="none"/>
<path d="M1345.93 298.3h13.2M1352.53 291.7v13.2M1347.93 293.7l9.2 9.2M1347.93 302.9l9.2 -9.2" stroke="#000000" stroke-width="2.1" fill="none"/>
<path d="M1384.68 326.2h13.2M1391.28 319.6v13.2M1386.68 321.6l9.2 9.2M1386.68 330.8l9.2 -9.2" stroke="#000000" stroke-width="2.1" fill="none"/>
<path d="M1423.34 346.6h13.2M1429.94 340v13.2M1425.34 342l9.2 9.2M1425.34 351.2l9.2 -9.2" stroke="#000000" stroke-width="2.1" fill="none"/>
<path d="M1462.08 367.6h13.2M1468.68 361v13.2M1464.08 363l9.2 9.2M1464.08 372.2l9.2 -9.2" stroke="#000000" stroke-width="2.1" fill="none"/>
<path d="M1500.77 389.4h13.2M1507.37 382.8v13.2M1502.77 384.8l9.2 9.2M1502.77 394l9.2 -9.2" stroke="#000000" stroke-width="2.1" fill="none"/>
<path d="M1539.48 410.3h13.2M1546.08 403.7v13.2M1541.48 405.7l9.2 9.2M1541.48 414.9l9.2 -9.2" stroke="#000000" stroke-width="2.1" fill="none"/>
<path d="M1578.19 431.2h13.2M1584.79 424.6v13.2M1580.19 426.6l9.2 9.2M1580.19 435.8l9.2 -9.2" stroke="#000000" stroke-width="2.1" fill="none"/>
<path d="M1616.89 449.5h13.2M1623.49 442.9v13.2M1618.89 444.9l9.2 9.2M1618.89 454.1l9.2 -9.2" stroke="#000000" stroke-width="2.1" fill="none"/>
<path d="M1655.59 473.1h13.2M1662.19 466.5v13.2M1657.59 468.5l9.2 9.2M1657.59 477.7l9.2 -9.2" stroke="#000000" stroke-width="2.1" fill="none"/>
<path d="M1694.3 496.6h13.2M1700.9 490v13.2M1696.3 492l9.2 9.2M1696.3 501.2l9.2 -9.2" stroke="#000000" stroke-width="2.1" fill="none"/>
<path d="M965.5 51.1 C977.2 51.97 1016.6 54.27 1035.67 56.3 C1054.75 58.33 1066.12 60.18 1079.95 63.3 C1093.78 66.42 1105.85 69.77 1118.67 75 C1131.49 80.23 1143.94 84.73 1156.86 94.7 C1169.77 104.67 1182.97 116.6 1196.15 134.8 C1209.33 153 1228.33 191.12 1235.96 203.9 C1243.58 216.68 1238.29 206.15 1241.9 211.5 C1245.51 216.85 1252.1 230.18 1257.6 236 C1263.1 241.82 1265.53 239.72 1274.93 246.4 C1284.32 253.08 1301.03 267.37 1313.96 276.1 C1326.9 284.83 1339.65 291.3 1352.53 298.8 C1365.42 306.3 1378.38 313.68 1391.28 321.1 C1404.18 328.52 1417.04 336.05 1429.94 343.3 C1442.84 350.55 1455.77 357.28 1468.68 364.6 C1481.58 371.92 1494.47 379.58 1507.37 387.2 C1520.28 394.82 1533.18 402.73 1546.08 410.3 C1558.98 417.87 1571.88 425.4 1584.79 432.6 C1597.69 439.8 1610.59 446.23 1623.49 453.5 C1636.39 460.77 1649.29 468.93 1662.19 476.2 C1675.1 483.47 1694.45 493.62 1700.9 497.1" stroke="#ff0000" stroke-width="2.1" fill="none" stroke-linejoin="round" stroke-dasharray="10.7 4.5 1.8 4.5"/>
<circle cx="964.6" cy="50.6" r="6.8" stroke="#ff0000" stroke-width="2.1" fill="none"/>
<circle cx="1034.77" cy="55.8" r="6.8" stroke="#ff0000" stroke-width="2.1" fill="none"/>
<circle cx="1079.05" cy="62.8" r="6.8" stroke="#ff0000" stroke-width="2.1" fill="none"/>
<circle cx="1117.77" cy="74.5" r="6.8" stroke="#ff0000" stroke-width="2.1" fill="none"/>
<circle cx="1155.96" cy="94.2" r="6.8" stroke="#ff0000" stroke-width="2.1" fill="none"/>
<circle cx="1195.25" cy="134.3" r="6.8" stroke="#ff0000" stroke-width="2.1" fill="none"/>
<circle cx="1235.06" cy="203.4" r="6.8" stroke="#ff0000" stroke-width="2.1" fill="none"/>
<circle cx="1274.03" cy="245.9" r="6.8" stroke="#ff0000" stroke-width="2.1" fill="none"/>
<circle cx="1313.06" cy="275.6" r="6.8" stroke="#ff0000" stroke-width="2.1" fill="none"/>
<circle cx="1351.63" cy="298.3" r="6.8" stroke="#ff0000" stroke-width="2.1" fill="none"/>
<circle cx="1390.38" cy="320.6" r="6.8" stroke="#ff0000" stroke-width="2.1" fill="none"/>
<circle cx="1429.04" cy="342.8" r="6.8" stroke="#ff0000" stroke-width="2.1" fill="none"/>
<circle cx="1467.78" cy="364.1" r="6.8" stroke="#ff0000" stroke-width="2.1" fill="none"/>
<circle cx="1506.47" cy="386.7" r="6.8" stroke="#ff0000" stroke-width="2.1" fill="none"/>
<circle cx="1545.18" cy="409.8" r="6.8" stroke="#ff0000" stroke-width="2.1" fill="none"/>
<circle cx="1583.89" cy="432.1" r="6.8" stroke="#ff0000" stroke-width="2.1" fill="none"/>
<circle cx="1622.59" cy="453" r="6.8" stroke="#ff0000" stroke-width="2.1" fill="none"/>
<circle cx="1661.29" cy="475.7" r="6.8" stroke="#ff0000" stroke-width="2.1" fill="none"/>
<circle cx="1700" cy="496.6" r="6.8" stroke="#ff0000" stroke-width="2.1" fill="none"/>
<text x="964.7" y="625.5" text-anchor="middle" class="tk">10<tspan class="sup" dx="-0.8" dy="-14.9">0</tspan></text>
<text x="1111.78" y="625.5" text-anchor="middle" class="tk">10<tspan class="sup" dx="-0.8" dy="-14.9">1</tspan></text>
<text x="1258.86" y="625.5" text-anchor="middle" class="tk">10<tspan class="sup" dx="-0.8" dy="-14.9">2</tspan></text>
<text x="1405.94" y="625.5" text-anchor="middle" class="tk">10<tspan class="sup" dx="-0.8" dy="-14.9">3</tspan></text>
<text x="1553.02" y="625.5" text-anchor="middle" class="tk">10<tspan class="sup" dx="-0.8" dy="-14.9">4</tspan></text>
<text x="1700.1" y="625.5" text-anchor="middle" class="tk">10<tspan class="sup" dx="-0.8" dy="-14.9">5</tspan></text>
<text x="953.5" y="31.9" text-anchor="end" class="tk">10<tspan class="sup" dx="-0.8" dy="-14.9">0</tspan></text>
<text x="953.5" y="218.4" text-anchor="end" class="tk">10<tspan class="sup" dx="-0.8" dy="-14.9">-2</tspan></text>
<text x="953.5" y="404.9" text-anchor="end" class="tk">10<tspan class="sup" dx="-0.8" dy="-14.9">-4</tspan></text>
<text x="953.5" y="591.4" text-anchor="end" class="tk">10<tspan class="sup" dx="-0.8" dy="-14.9">-6</tspan></text>
<text x="1332.2" y="665.7" text-anchor="middle" class="lab">Iteration</text>
<text transform="translate(887.2 295.35) rotate(-90)" text-anchor="middle" class="lab">Infidelity</text>
<text x="1292" y="714" text-anchor="middle" class="cap">(b) 2-qubit</text>
<rect x="1545.1" y="38.6" width="132.7" height="109.7" fill="#fff" stroke="#262626" stroke-width="1.1"/>
<path d="M1551.6 59H1602.3" stroke="#0000ff" stroke-width="2.1"/>
<path d="M1570.5 59h13.2M1577.1 52.4v13.2" stroke="#0000ff" stroke-width="2.1" fill="none"/>
<text x="1607.8" y="68.7" class="leg">MEG</text>
<path d="M1551.6 93.5H1602.3" stroke="#000000" stroke-width="2.1" stroke-dasharray="13.5 8.1"/>
<path d="M1570.5 93.5h13.2M1577.1 86.9v13.2M1572.5 88.9l9.2 9.2M1572.5 98.1l9.2 -9.2" stroke="#000000" stroke-width="2.1" fill="none"/>
<text x="1607.8" y="103.2" class="leg">ML</text>
<path d="M1551.6 127.7H1602.3" stroke="#ff0000" stroke-width="2.1" stroke-dasharray="10.7 4.5 1.8 4.5"/>
<circle cx="1576.2" cy="127.7" r="6.8" stroke="#ff0000" stroke-width="2.1" fill="none"/>
<text x="1607.8" y="137.6" class="leg">LS</text>
<path d="M249.68 789.5V1348.5M396.86 789.5V1348.5M544.04 789.5V1348.5M691.22 789.5V1348.5M102.5 929.25H838.4M102.5 1069H838.4M102.5 1208.75H838.4" stroke="#262626" stroke-opacity="0.14" stroke-width="1.2" fill="none"/>
<path d="M146.81 1348.5v-4.2M146.81 789.5v4.2M172.72 1348.5v-4.2M172.72 789.5v4.2M191.11 1348.5v-4.2M191.11 789.5v4.2M205.37 1348.5v-4.2M205.37 789.5v4.2M217.03 1348.5v-4.2M217.03 789.5v4.2M226.88 1348.5v-4.2M226.88 789.5v4.2M235.42 1348.5v-4.2M235.42 789.5v4.2M242.95 1348.5v-4.2M242.95 789.5v4.2M249.68 1348.5v-7.8M249.68 789.5v7.8M293.99 1348.5v-4.2M293.99 789.5v4.2M319.9 1348.5v-4.2M319.9 789.5v4.2M338.29 1348.5v-4.2M338.29 789.5v4.2M352.55 1348.5v-4.2M352.55 789.5v4.2M364.21 1348.5v-4.2M364.21 789.5v4.2M374.06 1348.5v-4.2M374.06 789.5v4.2M382.6 1348.5v-4.2M382.6 789.5v4.2M390.13 1348.5v-4.2M390.13 789.5v4.2M396.86 1348.5v-7.8M396.86 789.5v7.8M441.17 1348.5v-4.2M441.17 789.5v4.2M467.08 1348.5v-4.2M467.08 789.5v4.2M485.47 1348.5v-4.2M485.47 789.5v4.2M499.73 1348.5v-4.2M499.73 789.5v4.2M511.39 1348.5v-4.2M511.39 789.5v4.2M521.24 1348.5v-4.2M521.24 789.5v4.2M529.78 1348.5v-4.2M529.78 789.5v4.2M537.31 1348.5v-4.2M537.31 789.5v4.2M544.04 1348.5v-7.8M544.04 789.5v7.8M588.35 1348.5v-4.2M588.35 789.5v4.2M614.26 1348.5v-4.2M614.26 789.5v4.2M632.65 1348.5v-4.2M632.65 789.5v4.2M646.91 1348.5v-4.2M646.91 789.5v4.2M658.57 1348.5v-4.2M658.57 789.5v4.2M668.42 1348.5v-4.2M668.42 789.5v4.2M676.96 1348.5v-4.2M676.96 789.5v4.2M684.49 1348.5v-4.2M684.49 789.5v4.2M691.22 1348.5v-7.8M691.22 789.5v7.8M735.53 1348.5v-4.2M735.53 789.5v4.2M761.44 1348.5v-4.2M761.44 789.5v4.2M779.83 1348.5v-4.2M779.83 789.5v4.2M794.09 1348.5v-4.2M794.09 789.5v4.2M805.75 1348.5v-4.2M805.75 789.5v4.2M815.6 1348.5v-4.2M815.6 789.5v4.2M824.14 1348.5v-4.2M824.14 789.5v4.2M831.67 1348.5v-4.2M831.67 789.5v4.2M102.5 929.25h7.8M838.4 929.25h-7.8M102.5 887.18h4.2M838.4 887.18h-4.2M102.5 862.57h4.2M838.4 862.57h-4.2M102.5 845.11h4.2M838.4 845.11h-4.2M102.5 831.57h4.2M838.4 831.57h-4.2M102.5 820.5h4.2M838.4 820.5h-4.2M102.5 811.15h4.2M838.4 811.15h-4.2M102.5 803.04h4.2M838.4 803.04h-4.2M102.5 795.89h4.2M838.4 795.89h-4.2M102.5 1069h7.8M838.4 1069h-7.8M102.5 1026.93h4.2M838.4 1026.93h-4.2M102.5 1002.32h4.2M838.4 1002.32h-4.2M102.5 984.86h4.2M838.4 984.86h-4.2M102.5 971.32h4.2M838.4 971.32h-4.2M102.5 960.25h4.2M838.4 960.25h-4.2M102.5 950.9h4.2M838.4 950.9h-4.2M102.5 942.79h4.2M838.4 942.79h-4.2M102.5 935.64h4.2M838.4 935.64h-4.2M102.5 1208.75h7.8M838.4 1208.75h-7.8M102.5 1166.68h4.2M838.4 1166.68h-4.2M102.5 1142.07h4.2M838.4 1142.07h-4.2M102.5 1124.61h4.2M838.4 1124.61h-4.2M102.5 1111.07h4.2M838.4 1111.07h-4.2M102.5 1100h4.2M838.4 1100h-4.2M102.5 1090.65h4.2M838.4 1090.65h-4.2M102.5 1082.54h4.2M838.4 1082.54h-4.2M102.5 1075.39h4.2M838.4 1075.39h-4.2M102.5 1306.43h4.2M838.4 1306.43h-4.2M102.5 1281.82h4.2M838.4 1281.82h-4.2M102.5 1264.36h4.2M838.4 1264.36h-4.2M102.5 1250.82h4.2M838.4 1250.82h-4.2M102.5 1239.75h4.2M838.4 1239.75h-4.2M102.5 1230.4h4.2M838.4 1230.4h-4.2M102.5 1222.29h4.2M838.4 1222.29h-4.2M102.5 1215.14h4.2M838.4 1215.14h-4.2" stroke="#262626" stroke-width="1.2" fill="none"/>
<rect x="102.5" y="789.5" width="735.9" height="559" stroke="#262626" stroke-width="1.1" fill="none"/>
<path d="M102.5 826.3 C114.2 826.57 153.63 826.97 172.72 827.9 C191.81 828.83 203.19 830.37 217.03 831.9 C230.87 833.43 242.95 833.62 255.77 837.1 C268.6 840.58 284.45 848.15 293.99 852.8 C303.52 857.45 306.45 860.02 313 865 C319.55 869.98 327.27 877.27 333.31 882.7 C339.34 888.13 342.56 890.32 349.2 897.6 C355.84 904.88 367.91 920 373.14 926.4 C378.38 932.8 374.1 929.47 380.6 936 C387.1 942.53 400.37 955.72 412.14 965.6 C423.9 975.48 438.26 984.33 451.2 995.3 C464.14 1006.27 476.9 1018.55 489.8 1031.4 C502.69 1044.25 515.66 1059.17 528.57 1072.4 C541.48 1085.63 554.35 1099.17 567.26 1110.8 C580.17 1122.43 593.1 1131.02 606.02 1142.2 C618.93 1153.38 631.83 1166.72 644.74 1177.9 C657.65 1189.08 670.57 1198.72 683.48 1209.3 C696.39 1219.88 709.3 1230.47 722.21 1241.4 C735.12 1252.33 748.03 1264.2 760.94 1274.9 C773.85 1285.6 786.76 1295.13 799.67 1305.6 C812.58 1316.07 831.94 1332.35 838.4 1337.7" stroke="#0000ff" stroke-width="2.1" fill="none" stroke-linejoin="round"/>
<path d="M95.9 825.8h13.2M102.5 819.2v13.2" stroke="#0000ff" stroke-width="2.1" fill="none"/>
<path d="M166.12 827.4h13.2M172.72 820.8v13.2" stroke="#0000ff" stroke-width="2.1" fill="none"/>
<path d="M210.43 831.4h13.2M217.03 824.8v13.2" stroke="#0000ff" stroke-width="2.1" fill="none"/>
<path d="M249.17 836.6h13.2M255.77 830v13.2" stroke="#0000ff" stroke-width="2.1" fill="none"/>
<path d="M287.39 852.3h13.2M293.99 845.7v13.2" stroke="#0000ff" stroke-width="2.1" fill="none"/>
<path d="M326.71 882.2h13.2M333.31 875.6v13.2" stroke="#0000ff" stroke-width="2.1" fill="none"/>
<path d="M366.54 925.9h13.2M373.14 919.3v13.2" stroke="#0000ff" stroke-width="2.1" fill="none"/>
<path d="M405.54 965.1h13.2M412.14 958.5v13.2" stroke="#0000ff" stroke-width="2.1" fill="none"/>
<path d="M444.6 994.8h13.2M451.2 988.2v13.2" stroke="#0000ff" stroke-width="2.1" fill="none"/>
<path d="M483.2 1030.9h13.2M489.8 1024.3v13.2" stroke="#0000ff" stroke-width="2.1" fill="none"/>
<path d="M521.97 1071.9h13.2M528.57 1065.3v13.2" stroke="#0000ff" stroke-width="2.1" fill="none"/>
<path d="M560.66 1110.3h13.2M567.26 1103.7v13.2" stroke="#0000ff" stroke-width="2.1" fill="none"/>
<path d="M599.42 1141.7h13.2M606.02 1135.1v13.2" stroke="#0000ff" stroke-width="2.1" fill="none"/>
<path d="M638.14 1177.4h13.2M644.74 1170.8v13.2" stroke="#0000ff" stroke-width="2.1" fill="none"/>
<path d="M676.88 1208.8h13.2M683.48 1202.2v13.2" stroke="#0000ff" stroke-width="2.1" fill="none"/>
<path d="M715.61 1240.9h13.2M722.21 1234.3v13.2" stroke="#0000ff" stroke-width="2.1" fill="none"/>
<path d="M754.34 1274.4h13.2M760.94 1267.8v13.2" stroke="#0000ff" stroke-width="2.1" fill="none"/>
<path d="M793.07 1305.1h13.2M799.67 1298.5v13.2" stroke="#0000ff" stroke-width="2.1" fill="none"/>
<path d="M831.8 1337.2h13.2M838.4 1330.6v13.2" stroke="#0000ff" stroke-width="2.1" fill="none"/>
<path d="M102.5 826.3 C114.2 826.57 153.63 827.2 172.72 827.9 C191.81 828.6 203.19 829.45 217.03 830.5 C230.87 831.55 242.95 831.58 255.77 834.2 C268.6 836.82 281.06 840.08 293.99 846.2 C306.91 852.32 320.12 859.73 333.31 870.9 C346.5 882.07 360 897.42 373.14 913.2 C386.28 928.98 399.13 949.17 412.14 965.6 C425.15 982.03 438.26 997.05 451.2 1011.8 C464.14 1026.55 476.9 1041.08 489.8 1054.1 C502.69 1067.12 515.66 1078.7 528.57 1089.9 C541.48 1101.1 554.35 1111.28 567.26 1121.3 C580.17 1131.32 593.1 1140.68 606.02 1150 C618.93 1159.32 631.83 1167.75 644.74 1177.2 C657.65 1186.65 670.57 1196.67 683.48 1206.7 C696.39 1216.73 709.3 1227.05 722.21 1237.4 C735.12 1247.75 748.03 1258.65 760.94 1268.8 C773.85 1278.95 786.76 1288.03 799.67 1298.3 C812.58 1308.57 831.94 1325.05 838.4 1330.4" stroke="#000000" stroke-width="2.1" fill="none" stroke-linejoin="round" stroke-dasharray="13.5 8.1"/>
<path d="M95.9 825.8h13.2M102.5 819.2v13.2M97.9 821.2l9.2 9.2M97.9 830.4l9.2 -9.2" stroke="#000000" stroke-width="2.1" fill="none"/>
<path d="M166.12 827.4h13.2M172.72 820.8v13.2M168.12 822.8l9.2 9.2M168.12 832l9.2 -9.2" stroke="#000000" stroke-width="2.1" fill="none"/>
<path d="M210.43 830h13.2M217.03 823.4v13.2M212.43 825.4l9.2 9.2M212.43 834.6l9.2 -9.2" stroke="#000000" stroke-width="2.1" fill="none"/>
<path d="M249.17 833.7h13.2M255.77 827.1v13.2M251.17 829.1l9.2 9.2M251.17 838.3l9.2 -9.2" stroke="#000000" stroke-width="2.1" fill="none"/>
<path d="M287.39 845.7h13.2M293.99 839.1v13.2M289.39 841.1l9.2 9.2M289.39 850.3l9.2 -9.2" stroke="#000000" stroke-width="2.1" fill="none"/>
<path d="M326.71 870.4h13.2M333.31 863.8v13.2M328.71 865.8l9.2 9.2M328.71 875l9.2 -9.2" stroke="#000000" stroke-width="2.1" fill="none"/>
<path d="M366.54 912.7h13.2M373.14 906.1v13.2M368.54 908.1l9.2 9.2M368.54 917.3l9.2 -9.2" stroke="#000000" stroke-width="2.1" fill="none"/>
<path d="M405.54 965.1h13.2M412.14 958.5v13.2M407.54 960.5l9.2 9.2M407.54 969.7l9.2 -9.2" stroke="#000000" stroke-width="2.1" fill="none"/>
<path d="M444.6 1011.3h13.2M451.2 1004.7v13.2M446.6 1006.7l9.2 9.2M446.6 1015.9l9.2 -9.2" stroke="#000000" stroke-width="2.1" fill="none"/>
<path d="M483.2 1053.6h13.2M489.8 1047v13.2M485.2 1049l9.2 9.2M485.2 1058.2l9.2 -9.2" stroke="#000000" stroke-width="2.1" fill="none"/>
<path d="M521.97 1089.4h13.2M528.57 1082.8v13.2M523.97 1084.8l9.2 9.2M523.97 1094l9.2 -9.2" stroke="#000000" stroke-width="2.1" fill="none"/>
<path d="M560.66 1120.8h13.2M567.26 1114.2v13.2M562.66 1116.2l9.2 9.2M562.66 1125.4l9.2 -9.2" stroke="#000000" stroke-width="2.1" fill="none"/>
<path d="M599.42 1149.5h13.2M606.02 1142.9v13.2M601.42 1144.9l9.2 9.2M601.42 1154.1l9.2 -9.2" stroke="#000000" stroke-width="2.1" fill="none"/>
<path d="M638.14 1176.7h13.2M644.74 1170.1v13.2M640.14 1172.1l9.2 9.2M640.14 1181.3l9.2 -9.2" stroke="#000000" stroke-width="2.1" fill="none"/>
<path d="M676.88 1206.2h13.2M683.48 1199.6v13.2M678.88 1201.6l9.2 9.2M678.88 1210.8l9.2 -9.2" stroke="#000000" stroke-width="2.1" fill="none"/>
<path d="M715.61 1236.9h13.2M722.21 1230.3v13.2M717.61 1232.3l9.2 9.2M717.61 1241.5l9.2 -9.2" stroke="#000000" stroke-width="2.1" fill="none"/>
<path d="M754.34 1268.3h13.2M760.94 1261.7v13.2M756.34 1263.7l9.2 9.2M756.34 1272.9l9.2 -9.2" stroke="#000000" stroke-width="2.1" fill="none"/>
<path d="M793.07 1297.8h13.2M799.67 1291.2v13.2M795.07 1293.2l9.2 9.2M795.07 1302.4l9.2 -9.2" stroke="#000000" stroke-width="2.1" fill="none"/>
<path d="M831.8 1329.9h13.2M838.4 1323.3v13.2M833.8 1325.3l9.2 9.2M833.8 1334.5l9.2 -9.2" stroke="#000000" stroke-width="2.1" fill="none"/>
<path d="M102.5 826.3 C114.2 826.57 153.63 827.2 172.72 827.9 C191.81 828.6 203.19 829.45 217.03 830.5 C230.87 831.55 242.95 832.45 255.77 834.2 C268.6 835.95 281.06 837.73 293.99 841 C306.91 844.27 320.12 848.17 333.31 853.8 C346.5 859.43 362.06 867.5 373.14 874.8 C384.22 882.1 393.3 891.48 399.8 897.6 C406.3 903.72 407.79 905.68 412.14 911.5 C416.49 917.32 420.99 924.65 425.9 932.5 C430.81 940.35 437.38 950.9 441.6 958.6 C445.82 966.3 443.17 964.38 451.2 978.7 C459.23 993.02 476.9 1027.33 489.8 1044.5 C502.69 1061.67 515.66 1070.37 528.57 1081.7 C541.48 1093.03 554.35 1102.42 567.26 1112.5 C580.17 1122.58 593.1 1131.97 606.02 1142.2 C618.93 1152.43 631.83 1163.38 644.74 1173.9 C657.65 1184.42 670.57 1194.72 683.48 1205.3 C696.39 1215.88 709.3 1226.37 722.21 1237.4 C735.12 1248.43 748.03 1260.58 760.94 1271.5 C773.85 1282.42 786.76 1292.08 799.67 1302.9 C812.58 1313.72 831.94 1330.82 838.4 1336.4" stroke="#ff0000" stroke-width="2.1" fill="none" stroke-linejoin="round" stroke-dasharray="10.7 4.5 1.8 4.5"/>
<circle cx="101.6" cy="825.8" r="6.8" stroke="#ff0000" stroke-width="2.1" fill="none"/>
<circle cx="171.82" cy="827.4" r="6.8" stroke="#ff0000" stroke-width="2.1" fill="none"/>
<circle cx="216.13" cy="830" r="6.8" stroke="#ff0000" stroke-width="2.1" fill="none"/>
<circle cx="254.87" cy="833.7" r="6.8" stroke="#ff0000" stroke-width="2.1" fill="none"/>
<circle cx="293.09" cy="840.5" r="6.8" stroke="#ff0000" stroke-width="2.1" fill="none"/>
<circle cx="332.41" cy="853.3" r="6.8" stroke="#ff0000" stroke-width="2.1" fill="none"/>
<circle cx="372.24" cy="874.3" r="6.8" stroke="#ff0000" stroke-width="2.1" fill="none"/>
<circle cx="411.24" cy="911" r="6.8" stroke="#ff0000" stroke-width="2.1" fill="none"/>
<circle cx="450.3" cy="978.2" r="6.8" stroke="#ff0000" stroke-width="2.1" fill="none"/>
<circle cx="488.9" cy="1044" r="6.8" stroke="#ff0000" stroke-width="2.1" fill="none"/>
<circle cx="527.67" cy="1081.2" r="6.8" stroke="#ff0000" stroke-width="2.1" fill="none"/>
<circle cx="566.36" cy="1112" r="6.8" stroke="#ff0000" stroke-width="2.1" fill="none"/>
<circle cx="605.12" cy="1141.7" r="6.8" stroke="#ff0000" stroke-width="2.1" fill="none"/>
<circle cx="643.84" cy="1173.4" r="6.8" stroke="#ff0000" stroke-width="2.1" fill="none"/>
<circle cx="682.58" cy="1204.8" r="6.8" stroke="#ff0000" stroke-width="2.1" fill="none"/>
<circle cx="721.31" cy="1236.9" r="6.8" stroke="#ff0000" stroke-width="2.1" fill="none"/>
<circle cx="760.04" cy="1271" r="6.8" stroke="#ff0000" stroke-width="2.1" fill="none"/>
<circle cx="798.77" cy="1302.4" r="6.8" stroke="#ff0000" stroke-width="2.1" fill="none"/>
<circle cx="837.5" cy="1335.9" r="6.8" stroke="#ff0000" stroke-width="2.1" fill="none"/>
<text x="101.7" y="1398.9" text-anchor="middle" class="tk">10<tspan class="sup" dx="-0.8" dy="-14.9">0</tspan></text>
<text x="248.88" y="1398.9" text-anchor="middle" class="tk">10<tspan class="sup" dx="-0.8" dy="-14.9">1</tspan></text>
<text x="396.06" y="1398.9" text-anchor="middle" class="tk">10<tspan class="sup" dx="-0.8" dy="-14.9">2</tspan></text>
<text x="543.24" y="1398.9" text-anchor="middle" class="tk">10<tspan class="sup" dx="-0.8" dy="-14.9">3</tspan></text>
<text x="690.42" y="1398.9" text-anchor="middle" class="tk">10<tspan class="sup" dx="-0.8" dy="-14.9">4</tspan></text>
<text x="837.6" y="1398.9" text-anchor="middle" class="tk">10<tspan class="sup" dx="-0.8" dy="-14.9">5</tspan></text>
<text x="90.5" y="805.8" text-anchor="end" class="tk">10<tspan class="sup" dx="-0.8" dy="-14.9">0</tspan></text>
<text x="90.5" y="945.55" text-anchor="end" class="tk">10<tspan class="sup" dx="-0.8" dy="-14.9">-1</tspan></text>
<text x="90.5" y="1085.3" text-anchor="end" class="tk">10<tspan class="sup" dx="-0.8" dy="-14.9">-2</tspan></text>
<text x="90.5" y="1225.05" text-anchor="end" class="tk">10<tspan class="sup" dx="-0.8" dy="-14.9">-3</tspan></text>
<text x="90.5" y="1364.8" text-anchor="end" class="tk">10<tspan class="sup" dx="-0.8" dy="-14.9">-4</tspan></text>
<text x="469.45" y="1439.1" text-anchor="middle" class="lab">Iteration</text>
<text transform="translate(24.2 1069) rotate(-90)" text-anchor="middle" class="lab">Infidelity</text>
<text x="429.4" y="1487.4" text-anchor="middle" class="cap">(c) 3-qubit</text>
<rect x="682.6" y="812.5" width="132.7" height="109.7" fill="#fff" stroke="#262626" stroke-width="1.1"/>
<path d="M689.1 832.9H739.8" stroke="#0000ff" stroke-width="2.1"/>
<path d="M708 832.9h13.2M714.6 826.3v13.2" stroke="#0000ff" stroke-width="2.1" fill="none"/>
<text x="745.3" y="842.6" class="leg">MEG</text>
<path d="M689.1 867.4H739.8" stroke="#000000" stroke-width="2.1" stroke-dasharray="13.5 8.1"/>
<path d="M708 867.4h13.2M714.6 860.8v13.2M710 862.8l9.2 9.2M710 872l9.2 -9.2" stroke="#000000" stroke-width="2.1" fill="none"/>
<text x="745.3" y="877.1" class="leg">ML</text>
<path d="M689.1 901.6H739.8" stroke="#ff0000" stroke-width="2.1" stroke-dasharray="10.7 4.5 1.8 4.5"/>
<circle cx="713.7" cy="901.6" r="6.8" stroke="#ff0000" stroke-width="2.1" fill="none"/>
<text x="745.3" y="911.5" class="leg">LS</text>
<path d="M1112.58 789.6V1348.5M1259.66 789.6V1348.5M1406.74 789.6V1348.5M1553.82 789.6V1348.5M965.5 975.9H1700.9M965.5 1162.2H1700.9" stroke="#262626" stroke-opacity="0.14" stroke-width="1.2" fill="none"/>
<path d="M1009.78 1348.5v-4.2M1009.78 789.6v4.2M1035.67 1348.5v-4.2M1035.67 789.6v4.2M1054.05 1348.5v-4.2M1054.05 789.6v4.2M1068.3 1348.5v-4.2M1068.3 789.6v4.2M1079.95 1348.5v-4.2M1079.95 789.6v4.2M1089.8 1348.5v-4.2M1089.8 789.6v4.2M1098.33 1348.5v-4.2M1098.33 789.6v4.2M1105.85 1348.5v-4.2M1105.85 789.6v4.2M1112.58 1348.5v-7.8M1112.58 789.6v7.8M1156.86 1348.5v-4.2M1156.86 789.6v4.2M1182.75 1348.5v-4.2M1182.75 789.6v4.2M1201.13 1348.5v-4.2M1201.13 789.6v4.2M1215.38 1348.5v-4.2M1215.38 789.6v4.2M1227.03 1348.5v-4.2M1227.03 789.6v4.2M1236.88 1348.5v-4.2M1236.88 789.6v4.2M1245.41 1348.5v-4.2M1245.41 789.6v4.2M1252.93 1348.5v-4.2M1252.93 789.6v4.2M1259.66 1348.5v-7.8M1259.66 789.6v7.8M1303.94 1348.5v-4.2M1303.94 789.6v4.2M1329.83 1348.5v-4.2M1329.83 789.6v4.2M1348.21 1348.5v-4.2M1348.21 789.6v4.2M1362.46 1348.5v-4.2M1362.46 789.6v4.2M1374.11 1348.5v-4.2M1374.11 789.6v4.2M1383.96 1348.5v-4.2M1383.96 789.6v4.2M1392.49 1348.5v-4.2M1392.49 789.6v4.2M1400.01 1348.5v-4.2M1400.01 789.6v4.2M1406.74 1348.5v-7.8M1406.74 789.6v7.8M1451.02 1348.5v-4.2M1451.02 789.6v4.2M1476.91 1348.5v-4.2M1476.91 789.6v4.2M1495.29 1348.5v-4.2M1495.29 789.6v4.2M1509.54 1348.5v-4.2M1509.54 789.6v4.2M1521.19 1348.5v-4.2M1521.19 789.6v4.2M1531.04 1348.5v-4.2M1531.04 789.6v4.2M1539.57 1348.5v-4.2M1539.57 789.6v4.2M1547.09 1348.5v-4.2M1547.09 789.6v4.2M1553.82 1348.5v-7.8M1553.82 789.6v7.8M1598.1 1348.5v-4.2M1598.1 789.6v4.2M1623.99 1348.5v-4.2M1623.99 789.6v4.2M1642.37 1348.5v-4.2M1642.37 789.6v4.2M1656.62 1348.5v-4.2M1656.62 789.6v4.2M1668.27 1348.5v-4.2M1668.27 789.6v4.2M1678.12 1348.5v-4.2M1678.12 789.6v4.2M1686.65 1348.5v-4.2M1686.65 789.6v4.2M1694.17 1348.5v-4.2M1694.17 789.6v4.2M965.5 975.9h7.8M1700.9 975.9h-7.8M965.5 919.82h4.2M1700.9 919.82h-4.2M965.5 887.01h4.2M1700.9 887.01h-4.2M965.5 863.74h4.2M1700.9 863.74h-4.2M965.5 845.68h4.2M1700.9 845.68h-4.2M965.5 830.93h4.2M1700.9 830.93h-4.2M965.5 818.46h4.2M1700.9 818.46h-4.2M965.5 807.65h4.2M1700.9 807.65h-4.2M965.5 798.12h4.2M1700.9 798.12h-4.2M965.5 1162.2h7.8M1700.9 1162.2h-7.8M965.5 1106.12h4.2M1700.9 1106.12h-4.2M965.5 1073.31h4.2M1700.9 1073.31h-4.2M965.5 1050.04h4.2M1700.9 1050.04h-4.2M965.5 1031.98h4.2M1700.9 1031.98h-4.2M965.5 1017.23h4.2M1700.9 1017.23h-4.2M965.5 1004.76h4.2M1700.9 1004.76h-4.2M965.5 993.95h4.2M1700.9 993.95h-4.2M965.5 984.42h4.2M1700.9 984.42h-4.2M965.5 1292.42h4.2M1700.9 1292.42h-4.2M965.5 1259.61h4.2M1700.9 1259.61h-4.2M965.5 1236.34h4.2M1700.9 1236.34h-4.2M965.5 1218.28h4.2M1700.9 1218.28h-4.2M965.5 1203.53h4.2M1700.9 1203.53h-4.2M965.5 1191.06h4.2M1700.9 1191.06h-4.2M965.5 1180.25h4.2M1700.9 1180.25h-4.2M965.5 1170.72h4.2M1700.9 1170.72h-4.2" stroke="#262626" stroke-width="1.2" fill="none"/>
<rect x="965.5" y="789.6" width="735.4" height="558.9" stroke="#262626" stroke-width="1.1" fill="none"/>
<path d="M965.5 827 C977.2 827.08 1016.6 827.27 1035.67 827.5 C1054.75 827.73 1066.12 827.82 1079.95 828.4 C1093.78 828.98 1105.85 829.68 1118.67 831 C1131.49 832.32 1143.94 834.12 1156.86 836.3 C1169.77 838.48 1185.69 840.77 1196.15 844.1 C1206.61 847.43 1212.97 851.95 1219.6 856.3 C1226.23 860.65 1229.06 863.08 1235.96 870.2 C1242.86 877.32 1254.51 890.77 1261 899 C1267.49 907.23 1270.84 913.2 1274.93 919.6 C1279.01 926 1278.99 928.92 1285.5 937.4 C1292.01 945.88 1306.71 962.95 1313.96 970.5 C1321.21 978.05 1322.57 978.33 1329 982.7 C1335.43 987.07 1342.15 990.73 1352.53 996.7 C1362.91 1002.67 1378.38 1010 1391.28 1018.5 C1404.18 1027 1417.04 1037.43 1429.94 1047.7 C1442.84 1057.97 1455.77 1068.45 1468.68 1080.1 C1481.58 1091.75 1494.47 1105.47 1507.37 1117.6 C1520.28 1129.73 1533.18 1140.58 1546.08 1152.9 C1558.98 1165.22 1571.88 1178.82 1584.79 1191.5 C1597.69 1204.18 1610.59 1216.5 1623.49 1229 C1636.39 1241.5 1649.29 1253.82 1662.19 1266.5 C1675.1 1279.18 1694.45 1298.67 1700.9 1305.1" stroke="#0000ff" stroke-width="2.1" fill="none" stroke-linejoin="round"/>
<path d="M958.9 826.5h13.2M965.5 819.9v13.2" stroke="#0000ff" stroke-width="2.1" fill="none"/>
<path d="M1029.07 827h13.2M1035.67 820.4v13.2" stroke="#0000ff" stroke-width="2.1" fill="none"/>
<path d="M1073.35 827.9h13.2M1079.95 821.3v13.2" stroke="#0000ff" stroke-width="2.1" fill="none"/>
<path d="M1112.07 830.5h13.2M1118.67 823.9v13.2" stroke="#0000ff" stroke-width="2.1" fill="none"/>
<path d="M1150.26 835.8h13.2M1156.86 829.2v13.2" stroke="#0000ff" stroke-width="2.1" fill="none"/>
<path d="M1189.55 843.6h13.2M1196.15 837v13.2" stroke="#0000ff" stroke-width="2.1" fill="none"/>
<path d="M1229.36 869.7h13.2M1235.96 863.1v13.2" stroke="#0000ff" stroke-width="2.1" fill="none"/>
<path d="M1268.33 919.1h13.2M1274.93 912.5v13.2" stroke="#0000ff" stroke-width="2.1" fill="none"/>
<path d="M1307.36 970h13.2M1313.96 963.4v13.2" stroke="#0000ff" stroke-width="2.1" fill="none"/>
<path d="M1345.93 996.2h13.2M1352.53 989.6v13.2" stroke="#0000ff" stroke-width="2.1" fill="none"/>
<path d="M1384.68 1018h13.2M1391.28 1011.4v13.2" stroke="#0000ff" stroke-width="2.1" fill="none"/>
<path d="M1423.34 1047.2h13.2M1429.94 1040.6v13.2" stroke="#0000ff" stroke-width="2.1" fill="none"/>
<path d="M1462.08 1079.6h13.2M1468.68 1073v13.2" stroke="#0000ff" stroke-width="2.1" fill="none"/>
<path d="M1500.77 1117.1h13.2M1507.37 1110.5v13.2" stroke="#0000ff" stroke-width="2.1" fill="none"/>
<path d="M1539.48 1152.4h13.2M1546.08 1145.8v13.2" stroke="#0000ff" stroke-width="2.1" fill="none"/>
<path d="M1578.19 1191h13.2M1584.79 1184.4v13.2" stroke="#0000ff" stroke-width="2.1" fill="none"/>
<path d="M1616.89 1228.5h13.2M1623.49 1221.9v13.2" stroke="#0000ff" stroke-width="2.1" fill="none"/>
<path d="M1655.59 1266h13.2M1662.19 1259.4v13.2" stroke="#0000ff" stroke-width="2.1" fill="none"/>
<path d="M1694.3 1304.6h13.2M1700.9 1298v13.2" stroke="#0000ff" stroke-width="2.1" fill="none"/>
<path d="M965.5 827 C977.2 827.08 1016.6 827.27 1035.67 827.5 C1054.75 827.73 1066.12 828.02 1079.95 828.4 C1093.78 828.78 1105.85 829.22 1118.67 829.8 C1131.49 830.38 1143.94 830.38 1156.86 831.9 C1169.77 833.42 1182.97 834.35 1196.15 838.9 C1209.33 843.45 1222.83 849.03 1235.96 859.2 C1249.09 869.37 1261.93 883.23 1274.93 899.9 C1287.93 916.57 1301.03 942.2 1313.96 959.2 C1326.9 976.2 1339.65 990.13 1352.53 1001.9 C1365.42 1013.67 1378.38 1020.87 1391.28 1029.8 C1404.18 1038.73 1417.04 1046.38 1429.94 1055.5 C1442.84 1064.62 1455.77 1074.52 1468.68 1084.5 C1481.58 1094.48 1494.47 1104.37 1507.37 1115.4 C1520.28 1126.43 1533.18 1139.13 1546.08 1150.7 C1558.98 1162.27 1571.88 1172.85 1584.79 1184.8 C1597.69 1196.75 1610.59 1209.52 1623.49 1222.4 C1636.39 1235.28 1649.29 1248.77 1662.19 1262.1 C1675.1 1275.43 1694.45 1295.68 1700.9 1302.4" stroke="#000000" stroke-width="2.1" fill="none" stroke-linejoin="round" stroke-dasharray="13.5 8.1"/>
<path d="M958.9 826.5h13.2M965.5 819.9v13.2M960.9 821.9l9.2 9.2M960.9 831.1l9.2 -9.2" stroke="#000000" stroke-width="2.1" fill="none"/>
<path d="M1029.07 827h13.2M1035.67 820.4v13.2M1031.07 822.4l9.2 9.2M1031.07 831.6l9.2 -9.2" stroke="#000000" stroke-width="2.1" fill="none"/>
<path d="M1073.35 827.9h13.2M1079.95 821.3v13.2M1075.35 823.3l9.2 9.2M1075.35 832.5l9.2 -9.2" stroke="#000000" stroke-width="2.1" fill="none"/>
<path d="M1112.07 829.3h13.2M1118.67 822.7v13.2M1114.07 824.7l9.2 9.2M1114.07 833.9l9.2 -9.2" stroke="#000000" stroke-width="2.1" fill="none"/>
<path d="M1150.26 831.4h13.2M1156.86 824.8v13.2M1152.26 826.8l9.2 9.2M1152.26 836l9.2 -9.2" stroke="#000000" stroke-width="2.1" fill="none"/>
<path d="M1189.55 838.4h13.2M1196.15 831.8v13.2M1191.55 833.8l9.2 9.2M1191.55 843l9.2 -9.2" stroke="#000000" stroke-width="2.1" fill="none"/>
<path d="M1229.36 858.7h13.2M1235.96 852.1v13.2M1231.36 854.1l9.2 9.2M1231.36 863.3l9.2 -9.2" stroke="#000000" stroke-width="2.1" fill="none"/>
<path d="M1268.33 899.4h13.2M1274.93 892.8v13.2M1270.33 894.8l9.2 9.2M1270.33 904l9.2 -9.2" stroke="#000000" stroke-width="2.1" fill="none"/>
<path d="M1307.36 958.7h13.2M1313.96 952.1v13.2M1309.36 954.1l9.2 9.2M1309.36 963.3l9.2 -9.2" stroke="#000000" stroke-width="2.1" fill="none"/>
<path d="M1345.93 1001.4h13.2M1352.53 994.8v13.2M1347.93 996.8l9.2 9.2M1347.93 1006l9.2 -9.2" stroke="#000000" stroke-width="2.1" fill="none"/>
<path d="M1384.68 1029.3h13.2M1391.28 1022.7v13.2M1386.68 1024.7l9.2 9.2M1386.68 1033.9l9.2 -9.2" stroke="#000000" stroke-width="2.1" fill="none"/>
<path d="M1423.34 1055h13.2M1429.94 1048.4v13.2M1425.34 1050.4l9.2 9.2M1425.34 1059.6l9.2 -9.2" stroke="#000000" stroke-width="2.1" fill="none"/>
<path d="M1462.08 1084h13.2M1468.68 1077.4v13.2M1464.08 1079.4l9.2 9.2M1464.08 1088.6l9.2 -9.2" stroke="#000000" stroke-width="2.1" fill="none"/>
<path d="M1500.77 1114.9h13.2M1507.37 1108.3v13.2M1502.77 1110.3l9.2 9.2M1502.77 1119.5l9.2 -9.2" stroke="#000000" stroke-width="2.1" fill="none"/>
<path d="M1539.48 1150.2h13.2M1546.08 1143.6v13.2M1541.48 1145.6l9.2 9.2M1541.48 1154.8l9.2 -9.2" stroke="#000000" stroke-width="2.1" fill="none"/>
<path d="M1578.19 1184.3h13.2M1584.79 1177.7v13.2M1580.19 1179.7l9.2 9.2M1580.19 1188.9l9.2 -9.2" stroke="#000000" stroke-width="2.1" fill="none"/>
<path d="M1616.89 1221.9h13.2M1623.49 1215.3v13.2M1618.89 1217.3l9.2 9.2M1618.89 1226.5l9.2 -9.2" stroke="#000000" stroke-width="2.1" fill="none"/>
<path d="M1655.59 1261.6h13.2M1662.19 1255v13.2M1657.59 1257l9.2 9.2M1657.59 1266.2l9.2 -9.2" stroke="#000000" stroke-width="2.1" fill="none"/>
<path d="M1694.3 1301.9h13.2M1700.9 1295.3v13.2M1696.3 1297.3l9.2 9.2M1696.3 1306.5l9.2 -9.2" stroke="#000000" stroke-width="2.1" fill="none"/>
<path d="M965.5 827 C977.2 827.08 1016.6 827.27 1035.67 827.5 C1054.75 827.73 1066.12 828.02 1079.95 828.4 C1093.78 828.78 1105.85 829.22 1118.67 829.8 C1131.49 830.38 1143.94 831.03 1156.86 831.9 C1169.77 832.77 1182.97 833.13 1196.15 835 C1209.33 836.87 1222.83 839.55 1235.96 843.1 C1249.09 846.65 1261.93 850.7 1274.93 856.3 C1287.93 861.9 1301.03 867.98 1313.96 876.7 C1326.9 885.42 1342.46 898.2 1352.53 908.6 C1362.61 919 1367.94 930.08 1374.4 939.1 C1380.86 948.12 1385.46 953.4 1391.28 962.7 C1397.09 972 1402.86 983.72 1409.3 994.9 C1415.74 1006.08 1420.05 1016.53 1429.94 1029.8 C1439.84 1043.07 1455.77 1060.6 1468.68 1074.5 C1481.58 1088.4 1494.47 1100.5 1507.37 1113.2 C1520.28 1125.9 1533.18 1137.92 1546.08 1150.7 C1558.98 1163.48 1571.88 1176.75 1584.79 1189.9 C1597.69 1203.05 1610.59 1216.22 1623.49 1229.6 C1636.39 1242.98 1649.29 1256.58 1662.19 1270.2 C1675.1 1283.82 1694.45 1304.45 1700.9 1311.3" stroke="#ff0000" stroke-width="2.1" fill="none" stroke-linejoin="round" stroke-dasharray="10.7 4.5 1.8 4.5"/>
<circle cx="964.6" cy="826.5" r="6.8" stroke="#ff0000" stroke-width="2.1" fill="none"/>
<circle cx="1034.77" cy="827" r="6.8" stroke="#ff0000" stroke-width="2.1" fill="none"/>
<circle cx="1079.05" cy="827.9" r="6.8" stroke="#ff0000" stroke-width="2.1" fill="none"/>
<circle cx="1117.77" cy="829.3" r="6.8" stroke="#ff0000" stroke-width="2.1" fill="none"/>
<circle cx="1155.96" cy="831.4" r="6.8" stroke="#ff0000" stroke-width="2.1" fill="none"/>
<circle cx="1195.25" cy="834.5" r="6.8" stroke="#ff0000" stroke-width="2.1" fill="none"/>
<circle cx="1235.06" cy="842.6" r="6.8" stroke="#ff0000" stroke-width="2.1" fill="none"/>
<circle cx="1274.03" cy="855.8" r="6.8" stroke="#ff0000" stroke-width="2.1" fill="none"/>
<circle cx="1313.06" cy="876.2" r="6.8" stroke="#ff0000" stroke-width="2.1" fill="none"/>
<circle cx="1351.63" cy="908.1" r="6.8" stroke="#ff0000" stroke-width="2.1" fill="none"/>
<circle cx="1390.38" cy="962.2" r="6.8" stroke="#ff0000" stroke-width="2.1" fill="none"/>
<circle cx="1429.04" cy="1029.3" r="6.8" stroke="#ff0000" stroke-width="2.1" fill="none"/>
<circle cx="1467.78" cy="1074" r="6.8" stroke="#ff0000" stroke-width="2.1" fill="none"/>
<circle cx="1506.47" cy="1112.7" r="6.8" stroke="#ff0000" stroke-width="2.1" fill="none"/>
<circle cx="1545.18" cy="1150.2" r="6.8" stroke="#ff0000" stroke-width="2.1" fill="none"/>
<circle cx="1583.89" cy="1189.4" r="6.8" stroke="#ff0000" stroke-width="2.1" fill="none"/>
<circle cx="1622.59" cy="1229.1" r="6.8" stroke="#ff0000" stroke-width="2.1" fill="none"/>
<circle cx="1661.29" cy="1269.7" r="6.8" stroke="#ff0000" stroke-width="2.1" fill="none"/>
<circle cx="1700" cy="1310.8" r="6.8" stroke="#ff0000" stroke-width="2.1" fill="none"/>
<text x="964.7" y="1398.9" text-anchor="middle" class="tk">10<tspan class="sup" dx="-0.8" dy="-14.9">0</tspan></text>
<text x="1111.78" y="1398.9" text-anchor="middle" class="tk">10<tspan class="sup" dx="-0.8" dy="-14.9">1</tspan></text>
<text x="1258.86" y="1398.9" text-anchor="middle" class="tk">10<tspan class="sup" dx="-0.8" dy="-14.9">2</tspan></text>
<text x="1405.94" y="1398.9" text-anchor="middle" class="tk">10<tspan class="sup" dx="-0.8" dy="-14.9">3</tspan></text>
<text x="1553.02" y="1398.9" text-anchor="middle" class="tk">10<tspan class="sup" dx="-0.8" dy="-14.9">4</tspan></text>
<text x="1700.1" y="1398.9" text-anchor="middle" class="tk">10<tspan class="sup" dx="-0.8" dy="-14.9">5</tspan></text>
<text x="953.5" y="805.9" text-anchor="end" class="tk">10<tspan class="sup" dx="-0.8" dy="-14.9">0</tspan></text>
<text x="953.5" y="992.2" text-anchor="end" class="tk">10<tspan class="sup" dx="-0.8" dy="-14.9">-1</tspan></text>
<text x="953.5" y="1178.5" text-anchor="end" class="tk">10<tspan class="sup" dx="-0.8" dy="-14.9">-2</tspan></text>
<text x="953.5" y="1364.8" text-anchor="end" class="tk">10<tspan class="sup" dx="-0.8" dy="-14.9">-3</tspan></text>
<text x="1332.2" y="1439.1" text-anchor="middle" class="lab">Iteration</text>
<text transform="translate(887.2 1069.05) rotate(-90)" text-anchor="middle" class="lab">Infidelity</text>
<text x="1292" y="1487.4" text-anchor="middle" class="cap">(d) 4-qubit</text>
<rect x="1545.1" y="812.6" width="132.7" height="109.7" fill="#fff" stroke="#262626" stroke-width="1.1"/>
<path d="M1551.6 833H1602.3" stroke="#0000ff" stroke-width="2.1"/>
<path d="M1570.5 833h13.2M1577.1 826.4v13.2" stroke="#0000ff" stroke-width="2.1" fill="none"/>
<text x="1607.8" y="842.7" class="leg">MEG</text>
<path d="M1551.6 867.5H1602.3" stroke="#000000" stroke-width="2.1" stroke-dasharray="13.5 8.1"/>
<path d="M1570.5 867.5h13.2M1577.1 860.9v13.2M1572.5 862.9l9.2 9.2M1572.5 872.1l9.2 -9.2" stroke="#000000" stroke-width="2.1" fill="none"/>
<text x="1607.8" y="877.2" class="leg">ML</text>
<path d="M1551.6 901.7H1602.3" stroke="#ff0000" stroke-width="2.1" stroke-dasharray="10.7 4.5 1.8 4.5"/>
<circle cx="1576.2" cy="901.7" r="6.8" stroke="#ff0000" stroke-width="2.1" fill="none"/>
<text x="1607.8" y="911.6" class="leg">LS</text>
</svg>
</body></html>
